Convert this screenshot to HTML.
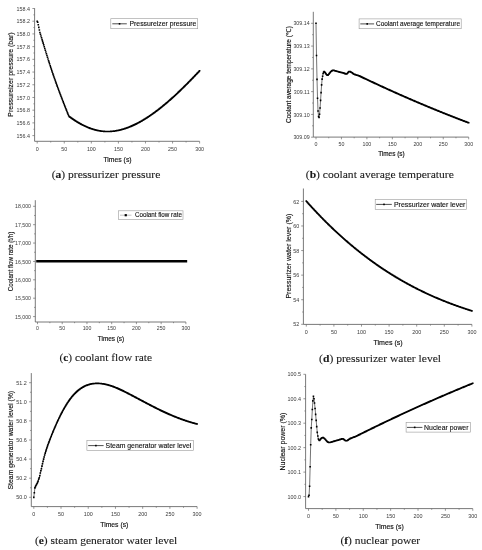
<!DOCTYPE html>
<html><head><meta charset="utf-8"><title>Simulation results</title>
<style>html,body{margin:0;padding:0;background:#fff;} svg{display:block;}</style></head>
<body>
<svg width="482" height="550" viewBox="0 0 482 550">
<rect width="482" height="550" fill="#fff"/>
<path d="M34.6 8.2 V141.3 H199.62" fill="none" stroke="#6a6a6a" stroke-width="0.9"/>
<path d="M37.2 141.3v2.2M50.73 141.3v1.2M64.27 141.3v2.2M77.81 141.3v1.2M91.34 141.3v2.2M104.88 141.3v1.2M118.41 141.3v2.2M131.95 141.3v1.2M145.48 141.3v2.2M159.02 141.3v1.2M172.55 141.3v2.2M186.09 141.3v1.2M199.62 141.3v2.2M34.6 135.6h-2.2M34.6 122.89h-2.2M34.6 110.18h-2.2M34.6 97.47h-2.2M34.6 84.76h-2.2M34.6 72.05h-2.2M34.6 59.34h-2.2M34.6 46.63h-2.2M34.6 33.92h-2.2M34.6 21.21h-2.2M34.6 8.5h-2.2M34.6 129.25h-1.2M34.6 116.54h-1.2M34.6 103.83h-1.2M34.6 91.11h-1.2M34.6 78.4h-1.2M34.6 65.7h-1.2M34.6 52.99h-1.2M34.6 40.28h-1.2M34.6 27.56h-1.2M34.6 14.85h-1.2" fill="none" stroke="#6a6a6a" stroke-width="0.7"/>
<text x="37.2" y="150.56" font-size="6.0" text-anchor="middle" fill="#3a3a3a" font-family="'Liberation Sans', Arial, sans-serif" textLength="2.97" lengthAdjust="spacingAndGlyphs">0</text>
<text x="64.27" y="150.56" font-size="6.0" text-anchor="middle" fill="#3a3a3a" font-family="'Liberation Sans', Arial, sans-serif" textLength="5.95" lengthAdjust="spacingAndGlyphs">50</text>
<text x="91.34" y="150.56" font-size="6.0" text-anchor="middle" fill="#3a3a3a" font-family="'Liberation Sans', Arial, sans-serif" textLength="8.92" lengthAdjust="spacingAndGlyphs">100</text>
<text x="118.41" y="150.56" font-size="6.0" text-anchor="middle" fill="#3a3a3a" font-family="'Liberation Sans', Arial, sans-serif" textLength="8.92" lengthAdjust="spacingAndGlyphs">150</text>
<text x="145.48" y="150.56" font-size="6.0" text-anchor="middle" fill="#3a3a3a" font-family="'Liberation Sans', Arial, sans-serif" textLength="8.92" lengthAdjust="spacingAndGlyphs">200</text>
<text x="172.55" y="150.56" font-size="6.0" text-anchor="middle" fill="#3a3a3a" font-family="'Liberation Sans', Arial, sans-serif" textLength="8.92" lengthAdjust="spacingAndGlyphs">250</text>
<text x="199.62" y="150.56" font-size="6.0" text-anchor="middle" fill="#3a3a3a" font-family="'Liberation Sans', Arial, sans-serif" textLength="8.92" lengthAdjust="spacingAndGlyphs">300</text>
<text x="30" y="137.72" font-size="5.9" text-anchor="end" fill="#3a3a3a" font-family="'Liberation Sans', Arial, sans-serif" textLength="13.39" lengthAdjust="spacingAndGlyphs">156.4</text>
<text x="30" y="125.01" font-size="5.9" text-anchor="end" fill="#3a3a3a" font-family="'Liberation Sans', Arial, sans-serif" textLength="13.39" lengthAdjust="spacingAndGlyphs">156.6</text>
<text x="30" y="112.3" font-size="5.9" text-anchor="end" fill="#3a3a3a" font-family="'Liberation Sans', Arial, sans-serif" textLength="13.39" lengthAdjust="spacingAndGlyphs">156.8</text>
<text x="30" y="99.59" font-size="5.9" text-anchor="end" fill="#3a3a3a" font-family="'Liberation Sans', Arial, sans-serif" textLength="13.39" lengthAdjust="spacingAndGlyphs">157.0</text>
<text x="30" y="86.88" font-size="5.9" text-anchor="end" fill="#3a3a3a" font-family="'Liberation Sans', Arial, sans-serif" textLength="13.39" lengthAdjust="spacingAndGlyphs">157.2</text>
<text x="30" y="74.17" font-size="5.9" text-anchor="end" fill="#3a3a3a" font-family="'Liberation Sans', Arial, sans-serif" textLength="13.39" lengthAdjust="spacingAndGlyphs">157.4</text>
<text x="30" y="61.46" font-size="5.9" text-anchor="end" fill="#3a3a3a" font-family="'Liberation Sans', Arial, sans-serif" textLength="13.39" lengthAdjust="spacingAndGlyphs">157.6</text>
<text x="30" y="48.75" font-size="5.9" text-anchor="end" fill="#3a3a3a" font-family="'Liberation Sans', Arial, sans-serif" textLength="13.39" lengthAdjust="spacingAndGlyphs">157.8</text>
<text x="30" y="36.04" font-size="5.9" text-anchor="end" fill="#3a3a3a" font-family="'Liberation Sans', Arial, sans-serif" textLength="13.39" lengthAdjust="spacingAndGlyphs">158.0</text>
<text x="30" y="23.33" font-size="5.9" text-anchor="end" fill="#3a3a3a" font-family="'Liberation Sans', Arial, sans-serif" textLength="13.39" lengthAdjust="spacingAndGlyphs">158.2</text>
<text x="30" y="10.62" font-size="5.9" text-anchor="end" fill="#3a3a3a" font-family="'Liberation Sans', Arial, sans-serif" textLength="13.39" lengthAdjust="spacingAndGlyphs">158.4</text>
<text transform="translate(13.28 74.5) rotate(-90)" font-size="6.9" text-anchor="middle" fill="#111" stroke="#111" stroke-width="0.15" font-family="'Liberation Sans', Arial, sans-serif" textLength="84.3" lengthAdjust="spacingAndGlyphs">Pressureizer pressure (bar)</text>
<text x="117.5" y="161.85" font-size="6.8" text-anchor="middle" fill="#111" font-family="'Liberation Sans', Arial, sans-serif" textLength="28.2" lengthAdjust="spacingAndGlyphs" stroke="#111" stroke-width="0.15">Times (s)</text>
<rect x="110.8" y="18.7" width="86.9" height="10" fill="#fff" stroke="#9a9a9a" stroke-width="0.6"/>
<path d="M112.3 23.8H126.8" stroke="#000" stroke-width="0.7"/>
<rect x="118.75" y="23" width="1.6" height="1.6" fill="#000"/>
<text x="129.5" y="26.25" font-size="6.8" text-anchor="start" fill="#111" font-family="'Liberation Sans', Arial, sans-serif" textLength="66.8" lengthAdjust="spacingAndGlyphs" stroke="#111" stroke-width="0.12">Pressureizer pressure</text>
<text x="51.7" y="177.8" font-size="11.2" fill="#1a1a1a" stroke="#1a1a1a" stroke-width="0.1" font-family="'Liberation Serif', 'Times New Roman', serif" textLength="108.6" lengthAdjust="spacingAndGlyphs">(<tspan font-weight="bold">a</tspan>) pressurizer pressure</text>
<path d="M36.4 20.6h1.6v1.6h-1.6zM36.94 21.5h1.6v1.6h-1.6zM37.48 23.91h1.6v1.6h-1.6zM38.02 26.62h1.6v1.6h-1.6zM38.57 29.23h1.6v1.6h-1.6zM39.11 31.72h1.6v1.6h-1.6zM39.65 33.48h1.6v1.6h-1.6zM40.19 35.24h1.6v1.6h-1.6zM40.73 37.01h1.6v1.6h-1.6zM41.27 38.79h1.6v1.6h-1.6zM41.81 40.56h1.6v1.6h-1.6zM42.36 42.34h1.6v1.6h-1.6zM42.9 44.11h1.6v1.6h-1.6zM43.44 45.89h1.6v1.6h-1.6zM43.98 47.66h1.6v1.6h-1.6zM44.52 49.43h1.6v1.6h-1.6zM45.06 51.19h1.6v1.6h-1.6zM45.6 52.95h1.6v1.6h-1.6zM46.15 54.69h1.6v1.6h-1.6zM46.69 56.43h1.6v1.6h-1.6zM47.23 58.16h1.6v1.6h-1.6zM47.77 59.88h1.6v1.6h-1.6zM48.31 61.58h1.6v1.6h-1.6zM48.85 63.26h1.6v1.6h-1.6zM49.39 64.93h1.6v1.6h-1.6zM49.94 66.59h1.6v1.6h-1.6zM50.48 68.23h1.6v1.6h-1.6zM51.02 69.85h1.6v1.6h-1.6zM51.56 71.45h1.6v1.6h-1.6zM52.1 73.05h1.6v1.6h-1.6zM52.64 74.62h1.6v1.6h-1.6zM53.18 76.18h1.6v1.6h-1.6zM53.72 77.73h1.6v1.6h-1.6zM54.27 79.27h1.6v1.6h-1.6zM54.81 80.79h1.6v1.6h-1.6zM55.35 82.3h1.6v1.6h-1.6zM55.89 83.8h1.6v1.6h-1.6zM56.43 85.29h1.6v1.6h-1.6zM56.97 86.77h1.6v1.6h-1.6zM57.51 88.23h1.6v1.6h-1.6zM58.06 89.69h1.6v1.6h-1.6zM58.6 91.14h1.6v1.6h-1.6zM59.14 92.58h1.6v1.6h-1.6zM59.68 94h1.6v1.6h-1.6zM60.22 95.43h1.6v1.6h-1.6zM60.76 96.84h1.6v1.6h-1.6zM61.3 98.25h1.6v1.6h-1.6zM61.85 99.65h1.6v1.6h-1.6zM62.39 101.04h1.6v1.6h-1.6zM62.93 102.43h1.6v1.6h-1.6zM63.47 103.81h1.6v1.6h-1.6zM64.01 105.19h1.6v1.6h-1.6zM64.55 106.57h1.6v1.6h-1.6zM65.09 107.94h1.6v1.6h-1.6zM65.64 109.3h1.6v1.6h-1.6zM66.18 110.67h1.6v1.6h-1.6zM66.72 112.03h1.6v1.6h-1.6zM67.26 113.39h1.6v1.6h-1.6zM67.8 114.75h1.6v1.6h-1.6zM68.34 115.68h1.6v1.6h-1.6zM68.88 116.08h1.6v1.6h-1.6zM69.43 116.47h1.6v1.6h-1.6zM69.97 116.86h1.6v1.6h-1.6zM70.51 117.24h1.6v1.6h-1.6zM71.05 117.62h1.6v1.6h-1.6zM71.59 118h1.6v1.6h-1.6zM72.13 118.37h1.6v1.6h-1.6zM72.67 118.74h1.6v1.6h-1.6zM73.22 119.1h1.6v1.6h-1.6zM73.76 119.45h1.6v1.6h-1.6zM74.3 119.8h1.6v1.6h-1.6zM74.84 120.15h1.6v1.6h-1.6zM75.38 120.49h1.6v1.6h-1.6zM75.92 120.83h1.6v1.6h-1.6zM76.46 121.16h1.6v1.6h-1.6zM77.01 121.49h1.6v1.6h-1.6zM77.55 121.81h1.6v1.6h-1.6zM78.09 122.12h1.6v1.6h-1.6zM78.63 122.43h1.6v1.6h-1.6zM79.17 122.74h1.6v1.6h-1.6zM79.71 123.04h1.6v1.6h-1.6zM80.25 123.34h1.6v1.6h-1.6zM80.79 123.63h1.6v1.6h-1.6zM81.34 123.91h1.6v1.6h-1.6zM81.88 124.19h1.6v1.6h-1.6zM82.42 124.47h1.6v1.6h-1.6zM82.96 124.74h1.6v1.6h-1.6zM83.5 125h1.6v1.6h-1.6zM84.04 125.26h1.6v1.6h-1.6zM84.58 125.51h1.6v1.6h-1.6zM85.13 125.76h1.6v1.6h-1.6zM85.67 126h1.6v1.6h-1.6zM86.21 126.23h1.6v1.6h-1.6zM86.75 126.46h1.6v1.6h-1.6zM87.29 126.69h1.6v1.6h-1.6zM87.83 126.91h1.6v1.6h-1.6zM88.37 127.12h1.6v1.6h-1.6zM88.92 127.33h1.6v1.6h-1.6zM89.46 127.53h1.6v1.6h-1.6zM90 127.72h1.6v1.6h-1.6zM90.54 127.91h1.6v1.6h-1.6zM91.08 128.1h1.6v1.6h-1.6zM91.62 128.27h1.6v1.6h-1.6zM92.16 128.45h1.6v1.6h-1.6zM92.71 128.61h1.6v1.6h-1.6zM93.25 128.77h1.6v1.6h-1.6zM93.79 128.92h1.6v1.6h-1.6zM94.33 129.07h1.6v1.6h-1.6zM94.87 129.21h1.6v1.6h-1.6zM95.41 129.35h1.6v1.6h-1.6zM95.95 129.48h1.6v1.6h-1.6zM96.5 129.6h1.6v1.6h-1.6zM97.04 129.71h1.6v1.6h-1.6zM97.58 129.82h1.6v1.6h-1.6zM98.12 129.93h1.6v1.6h-1.6zM98.66 130.02h1.6v1.6h-1.6zM99.2 130.11h1.6v1.6h-1.6zM99.74 130.2h1.6v1.6h-1.6zM100.29 130.28h1.6v1.6h-1.6zM100.83 130.35h1.6v1.6h-1.6zM101.37 130.41h1.6v1.6h-1.6zM101.91 130.47h1.6v1.6h-1.6zM102.45 130.52h1.6v1.6h-1.6zM102.99 130.57h1.6v1.6h-1.6zM103.53 130.61h1.6v1.6h-1.6zM104.08 130.64h1.6v1.6h-1.6zM104.62 130.67h1.6v1.6h-1.6zM105.16 130.69h1.6v1.6h-1.6zM105.7 130.7h1.6v1.6h-1.6zM106.24 130.71h1.6v1.6h-1.6zM106.78 130.71h1.6v1.6h-1.6zM107.32 130.71h1.6v1.6h-1.6zM107.86 130.7h1.6v1.6h-1.6zM108.41 130.69h1.6v1.6h-1.6zM108.95 130.66h1.6v1.6h-1.6zM109.49 130.64h1.6v1.6h-1.6zM110.03 130.6h1.6v1.6h-1.6zM110.57 130.56h1.6v1.6h-1.6zM111.11 130.52h1.6v1.6h-1.6zM111.65 130.47h1.6v1.6h-1.6zM112.2 130.41h1.6v1.6h-1.6zM112.74 130.35h1.6v1.6h-1.6zM113.28 130.28h1.6v1.6h-1.6zM113.82 130.21h1.6v1.6h-1.6zM114.36 130.13h1.6v1.6h-1.6zM114.9 130.05h1.6v1.6h-1.6zM115.44 129.96h1.6v1.6h-1.6zM115.99 129.86h1.6v1.6h-1.6zM116.53 129.76h1.6v1.6h-1.6zM117.07 129.66h1.6v1.6h-1.6zM117.61 129.54h1.6v1.6h-1.6zM118.15 129.43h1.6v1.6h-1.6zM118.69 129.3h1.6v1.6h-1.6zM119.23 129.18h1.6v1.6h-1.6zM119.78 129.04h1.6v1.6h-1.6zM120.32 128.91h1.6v1.6h-1.6zM120.86 128.76h1.6v1.6h-1.6zM121.4 128.61h1.6v1.6h-1.6zM121.94 128.46h1.6v1.6h-1.6zM122.48 128.3h1.6v1.6h-1.6zM123.02 128.14h1.6v1.6h-1.6zM123.57 127.97h1.6v1.6h-1.6zM124.11 127.8h1.6v1.6h-1.6zM124.65 127.62h1.6v1.6h-1.6zM125.19 127.44h1.6v1.6h-1.6zM125.73 127.25h1.6v1.6h-1.6zM126.27 127.05h1.6v1.6h-1.6zM126.81 126.86h1.6v1.6h-1.6zM127.36 126.65h1.6v1.6h-1.6zM127.9 126.45h1.6v1.6h-1.6zM128.44 126.23h1.6v1.6h-1.6zM128.98 126.02h1.6v1.6h-1.6zM129.52 125.8h1.6v1.6h-1.6zM130.06 125.57h1.6v1.6h-1.6zM130.6 125.34h1.6v1.6h-1.6zM131.14 125.1h1.6v1.6h-1.6zM131.69 124.86h1.6v1.6h-1.6zM132.23 124.62h1.6v1.6h-1.6zM132.77 124.37h1.6v1.6h-1.6zM133.31 124.12h1.6v1.6h-1.6zM133.85 123.86h1.6v1.6h-1.6zM134.39 123.6h1.6v1.6h-1.6zM134.93 123.33h1.6v1.6h-1.6zM135.48 123.06h1.6v1.6h-1.6zM136.02 122.79h1.6v1.6h-1.6zM136.56 122.51h1.6v1.6h-1.6zM137.1 122.23h1.6v1.6h-1.6zM137.64 121.94h1.6v1.6h-1.6zM138.18 121.65h1.6v1.6h-1.6zM138.72 121.35h1.6v1.6h-1.6zM139.27 121.05h1.6v1.6h-1.6zM139.81 120.75h1.6v1.6h-1.6zM140.35 120.44h1.6v1.6h-1.6zM140.89 120.13h1.6v1.6h-1.6zM141.43 119.82h1.6v1.6h-1.6zM141.97 119.5h1.6v1.6h-1.6zM142.51 119.17h1.6v1.6h-1.6zM143.06 118.85h1.6v1.6h-1.6zM143.6 118.52h1.6v1.6h-1.6zM144.14 118.18h1.6v1.6h-1.6zM144.68 117.85h1.6v1.6h-1.6zM145.22 117.5h1.6v1.6h-1.6zM145.76 117.16h1.6v1.6h-1.6zM146.3 116.81h1.6v1.6h-1.6zM146.85 116.46h1.6v1.6h-1.6zM147.39 116.1h1.6v1.6h-1.6zM147.93 115.74h1.6v1.6h-1.6zM148.47 115.38h1.6v1.6h-1.6zM149.01 115.01h1.6v1.6h-1.6zM149.55 114.64h1.6v1.6h-1.6zM150.09 114.27h1.6v1.6h-1.6zM150.64 113.9h1.6v1.6h-1.6zM151.18 113.52h1.6v1.6h-1.6zM151.72 113.13h1.6v1.6h-1.6zM152.26 112.75h1.6v1.6h-1.6zM152.8 112.36h1.6v1.6h-1.6zM153.34 111.96h1.6v1.6h-1.6zM153.88 111.57h1.6v1.6h-1.6zM154.43 111.17h1.6v1.6h-1.6zM154.97 110.77h1.6v1.6h-1.6zM155.51 110.36h1.6v1.6h-1.6zM156.05 109.95h1.6v1.6h-1.6zM156.59 109.54h1.6v1.6h-1.6zM157.13 109.13h1.6v1.6h-1.6zM157.67 108.71h1.6v1.6h-1.6zM158.21 108.29h1.6v1.6h-1.6zM158.76 107.87h1.6v1.6h-1.6zM159.3 107.44h1.6v1.6h-1.6zM159.84 107.01h1.6v1.6h-1.6zM160.38 106.58h1.6v1.6h-1.6zM160.92 106.14h1.6v1.6h-1.6zM161.46 105.7h1.6v1.6h-1.6zM162 105.26h1.6v1.6h-1.6zM162.55 104.82h1.6v1.6h-1.6zM163.09 104.37h1.6v1.6h-1.6zM163.63 103.92h1.6v1.6h-1.6zM164.17 103.47h1.6v1.6h-1.6zM164.71 103.02h1.6v1.6h-1.6zM165.25 102.56h1.6v1.6h-1.6zM165.79 102.1h1.6v1.6h-1.6zM166.34 101.64h1.6v1.6h-1.6zM166.88 101.17h1.6v1.6h-1.6zM167.42 100.7h1.6v1.6h-1.6zM167.96 100.23h1.6v1.6h-1.6zM168.5 99.76h1.6v1.6h-1.6zM169.04 99.29h1.6v1.6h-1.6zM169.58 98.81h1.6v1.6h-1.6zM170.13 98.33h1.6v1.6h-1.6zM170.67 97.84h1.6v1.6h-1.6zM171.21 97.36h1.6v1.6h-1.6zM171.75 96.87h1.6v1.6h-1.6zM172.29 96.38h1.6v1.6h-1.6zM172.83 95.89h1.6v1.6h-1.6zM173.37 95.39h1.6v1.6h-1.6zM173.92 94.9h1.6v1.6h-1.6zM174.46 94.4h1.6v1.6h-1.6zM175 93.9h1.6v1.6h-1.6zM175.54 93.39h1.6v1.6h-1.6zM176.08 92.89h1.6v1.6h-1.6zM176.62 92.38h1.6v1.6h-1.6zM177.16 91.87h1.6v1.6h-1.6zM177.71 91.36h1.6v1.6h-1.6zM178.25 90.84h1.6v1.6h-1.6zM178.79 90.33h1.6v1.6h-1.6zM179.33 89.81h1.6v1.6h-1.6zM179.87 89.29h1.6v1.6h-1.6zM180.41 88.76h1.6v1.6h-1.6zM180.95 88.24h1.6v1.6h-1.6zM181.5 87.71h1.6v1.6h-1.6zM182.04 87.18h1.6v1.6h-1.6zM182.58 86.65h1.6v1.6h-1.6zM183.12 86.12h1.6v1.6h-1.6zM183.66 85.59h1.6v1.6h-1.6zM184.2 85.05h1.6v1.6h-1.6zM184.74 84.51h1.6v1.6h-1.6zM185.28 83.97h1.6v1.6h-1.6zM185.83 83.43h1.6v1.6h-1.6zM186.37 82.89h1.6v1.6h-1.6zM186.91 82.35h1.6v1.6h-1.6zM187.45 81.8h1.6v1.6h-1.6zM187.99 81.25h1.6v1.6h-1.6zM188.53 80.7h1.6v1.6h-1.6zM189.07 80.15h1.6v1.6h-1.6zM189.62 79.6h1.6v1.6h-1.6zM190.16 79.04h1.6v1.6h-1.6zM190.7 78.49h1.6v1.6h-1.6zM191.24 77.93h1.6v1.6h-1.6zM191.78 77.37h1.6v1.6h-1.6zM192.32 76.81h1.6v1.6h-1.6zM192.86 76.25h1.6v1.6h-1.6zM193.41 75.68h1.6v1.6h-1.6zM193.95 75.12h1.6v1.6h-1.6zM194.49 74.55h1.6v1.6h-1.6zM195.03 73.99h1.6v1.6h-1.6zM195.57 73.42h1.6v1.6h-1.6zM196.11 72.85h1.6v1.6h-1.6zM196.65 72.28h1.6v1.6h-1.6zM197.2 71.7h1.6v1.6h-1.6zM197.74 71.13h1.6v1.6h-1.6zM198.28 70.55h1.6v1.6h-1.6zM198.82 70h1.6v1.6h-1.6z" fill="#000"/>
<path d="M313.3 11.8 V137.1 H468.7" fill="none" stroke="#6a6a6a" stroke-width="0.9"/>
<path d="M316 137.1v2.2M328.73 137.1v1.2M341.45 137.1v2.2M354.18 137.1v1.2M366.9 137.1v2.2M379.62 137.1v1.2M392.35 137.1v2.2M405.08 137.1v1.2M417.8 137.1v2.2M430.53 137.1v1.2M443.25 137.1v2.2M455.98 137.1v1.2M468.7 137.1v2.2M313.3 137.2h-2.2M313.3 114.42h-2.2M313.3 91.64h-2.2M313.3 68.86h-2.2M313.3 46.08h-2.2M313.3 23.3h-2.2M313.3 125.81h-1.2M313.3 103.03h-1.2M313.3 80.25h-1.2M313.3 57.47h-1.2M313.3 34.69h-1.2" fill="none" stroke="#6a6a6a" stroke-width="0.7"/>
<text x="316" y="145.56" font-size="6.0" text-anchor="middle" fill="#3a3a3a" font-family="'Liberation Sans', Arial, sans-serif" textLength="2.95" lengthAdjust="spacingAndGlyphs">0</text>
<text x="341.45" y="145.56" font-size="6.0" text-anchor="middle" fill="#3a3a3a" font-family="'Liberation Sans', Arial, sans-serif" textLength="5.89" lengthAdjust="spacingAndGlyphs">50</text>
<text x="366.9" y="145.56" font-size="6.0" text-anchor="middle" fill="#3a3a3a" font-family="'Liberation Sans', Arial, sans-serif" textLength="8.84" lengthAdjust="spacingAndGlyphs">100</text>
<text x="392.35" y="145.56" font-size="6.0" text-anchor="middle" fill="#3a3a3a" font-family="'Liberation Sans', Arial, sans-serif" textLength="8.84" lengthAdjust="spacingAndGlyphs">150</text>
<text x="417.8" y="145.56" font-size="6.0" text-anchor="middle" fill="#3a3a3a" font-family="'Liberation Sans', Arial, sans-serif" textLength="8.84" lengthAdjust="spacingAndGlyphs">200</text>
<text x="443.25" y="145.56" font-size="6.0" text-anchor="middle" fill="#3a3a3a" font-family="'Liberation Sans', Arial, sans-serif" textLength="8.84" lengthAdjust="spacingAndGlyphs">250</text>
<text x="468.7" y="145.56" font-size="6.0" text-anchor="middle" fill="#3a3a3a" font-family="'Liberation Sans', Arial, sans-serif" textLength="8.84" lengthAdjust="spacingAndGlyphs">300</text>
<text x="309.6" y="139.32" font-size="5.9" text-anchor="end" fill="#3a3a3a" font-family="'Liberation Sans', Arial, sans-serif" textLength="16.21" lengthAdjust="spacingAndGlyphs">309.09</text>
<text x="309.6" y="116.54" font-size="5.9" text-anchor="end" fill="#3a3a3a" font-family="'Liberation Sans', Arial, sans-serif" textLength="16.21" lengthAdjust="spacingAndGlyphs">309.10</text>
<text x="309.6" y="93.76" font-size="5.9" text-anchor="end" fill="#3a3a3a" font-family="'Liberation Sans', Arial, sans-serif" textLength="15.82" lengthAdjust="spacingAndGlyphs">309.11</text>
<text x="309.6" y="70.98" font-size="5.9" text-anchor="end" fill="#3a3a3a" font-family="'Liberation Sans', Arial, sans-serif" textLength="16.21" lengthAdjust="spacingAndGlyphs">309.12</text>
<text x="309.6" y="48.2" font-size="5.9" text-anchor="end" fill="#3a3a3a" font-family="'Liberation Sans', Arial, sans-serif" textLength="16.21" lengthAdjust="spacingAndGlyphs">309.13</text>
<text x="309.6" y="25.42" font-size="5.9" text-anchor="end" fill="#3a3a3a" font-family="'Liberation Sans', Arial, sans-serif" textLength="16.21" lengthAdjust="spacingAndGlyphs">309.14</text>
<text transform="translate(291.38 74.55) rotate(-90)" font-size="6.6" text-anchor="middle" fill="#111" stroke="#111" stroke-width="0.15" font-family="'Liberation Sans', Arial, sans-serif" textLength="96.9" lengthAdjust="spacingAndGlyphs">Coolant average temperature (℃)</text>
<text x="391.4" y="156.34" font-size="6.5" text-anchor="middle" fill="#111" font-family="'Liberation Sans', Arial, sans-serif" textLength="26.4" lengthAdjust="spacingAndGlyphs" stroke="#111" stroke-width="0.15">Times (s)</text>
<rect x="359.1" y="18.9" width="102.1" height="9.8" fill="#fff" stroke="#9a9a9a" stroke-width="0.6"/>
<path d="M360.3 23.9H374.1" stroke="#000" stroke-width="0.7"/>
<rect x="366.4" y="23.1" width="1.6" height="1.6" fill="#000"/>
<text x="376" y="26.24" font-size="6.5" text-anchor="start" fill="#111" font-family="'Liberation Sans', Arial, sans-serif" textLength="84" lengthAdjust="spacingAndGlyphs" stroke="#111" stroke-width="0.12">Coolant average temperature</text>
<text x="305.8" y="177.9" font-size="11.2" fill="#1a1a1a" stroke="#1a1a1a" stroke-width="0.1" font-family="'Liberation Serif', 'Times New Roman', serif" textLength="148" lengthAdjust="spacingAndGlyphs">(<tspan font-weight="bold">b</tspan>) coolant average temperature</text>
<path d="M316 23.3 L316.51 55.49 L317.02 79.35 L317.53 98.23 L318.04 111.07 L318.55 116.49 L319.05 117.55 L319.56 114.31 L320.07 108.02 L320.58 100.34 L321.09 92.61 L321.6 84.9 L322.11 79.17 L322.62 76.24 L323.13 73.46 L323.63 72.08 L324.14 71.51 L324.65 71.85 L325.16 72.7 L325.67 73.41 L326.18 74.11 L326.69 74.77 L327.2 75.22 L327.71 75.26 L328.22 74.9 L328.73 74.3 L329.23 73.63 L329.74 73.04 L330.25 72.42 L330.76 71.78 L331.27 71.22 L331.78 70.86 L332.29 70.6 L332.8 70.4 L333.31 70.3 L333.81 70.35 L334.32 70.5 L334.83 70.7 L335.34 70.88 L335.85 71.03 L336.36 71.16 L336.87 71.3 L337.38 71.43 L337.89 71.57 L338.4 71.71 L338.9 71.86 L339.41 72.01 L339.92 72.15 L340.43 72.28 L340.94 72.4 L341.45 72.51 L341.96 72.63 L342.47 72.74 L342.98 72.86 L343.49 73 L344 73.17 L344.5 73.4 L345.01 73.63 L345.52 73.83 L346.03 73.97 L346.54 73.98 L347.05 73.68 L347.56 73.12 L348.07 72.47 L348.58 71.89 L349.08 71.54 L349.59 71.53 L350.1 71.67 L350.61 71.91 L351.12 72.2 L351.63 72.5 L352.14 72.81 L352.65 73.19 L353.16 73.58 L353.67 73.93 L354.18 74.18 L354.68 74.41 L355.19 74.61 L355.7 74.79 L356.21 74.97 L356.72 75.13 L357.23 75.28 L357.74 75.42 L358.25 75.56 L358.76 75.71 L359.26 75.89 L359.77 76.09 L360.28 76.33 L360.79 76.58 L361.3 76.84 L361.81 77.11 L362.32 77.36 L362.83 77.61 L363.34 77.85 L363.85 78.09 L364.36 78.34 L364.86 78.58 L365.37 78.82 L365.88 79.07 L366.39 79.31 L366.9 79.55 L367.41 79.79 L367.92 80.03 L368.43 80.27 L368.94 80.48 L369.44 80.72 L369.95 80.96 L370.46 81.2 L370.97 81.44 L371.48 81.68 L371.99 81.92 L372.5 82.16 L373.01 82.39 L373.52 82.63 L374.03 82.87 L374.54 83.11 L375.04 83.35 L375.55 83.58 L376.06 83.82 L376.57 84.06 L377.08 84.29 L377.59 84.53 L378.1 84.77 L378.61 85 L379.12 85.24 L379.62 85.47 L380.13 85.71 L380.64 85.94 L381.15 86.18 L381.66 86.41 L382.17 86.65 L382.68 86.88 L383.19 87.11 L383.7 87.35 L384.21 87.58 L384.72 87.81 L385.22 88.04 L385.73 88.28 L386.24 88.51 L386.75 88.74 L387.26 88.97 L387.77 89.2 L388.28 89.44 L388.79 89.67 L389.3 89.9 L389.81 90.13 L390.31 90.36 L390.82 90.59 L391.33 90.82 L391.84 91.05 L392.35 91.28 L392.86 91.5 L393.37 91.73 L393.88 91.96 L394.39 92.19 L394.89 92.42 L395.4 92.64 L395.91 92.87 L396.42 93.1 L396.93 93.33 L397.44 93.55 L397.95 93.78 L398.46 94 L398.97 94.23 L399.48 94.46 L399.99 94.68 L400.49 94.91 L401 95.13 L401.51 95.36 L402.02 95.58 L402.53 95.8 L403.04 96.03 L403.55 96.25 L404.06 96.48 L404.57 96.7 L405.07 96.92 L405.58 97.14 L406.09 97.37 L406.6 97.59 L407.11 97.81 L407.62 98.03 L408.13 98.25 L408.64 98.47 L409.15 98.7 L409.66 98.92 L410.17 99.14 L410.67 99.36 L411.18 99.58 L411.69 99.8 L412.2 100.02 L412.71 100.23 L413.22 100.45 L413.73 100.67 L414.24 100.89 L414.75 101.11 L415.25 101.33 L415.76 101.54 L416.27 101.76 L416.78 101.98 L417.29 102.2 L417.8 102.41 L418.31 102.63 L418.82 102.84 L419.33 103.06 L419.84 103.28 L420.35 103.49 L420.85 103.71 L421.36 103.92 L421.87 104.14 L422.38 104.35 L422.89 104.56 L423.4 104.78 L423.91 104.99 L424.42 105.21 L424.93 105.42 L425.44 105.63 L425.94 105.84 L426.45 106.06 L426.96 106.27 L427.47 106.48 L427.98 106.69 L428.49 106.9 L429 107.11 L429.51 107.33 L430.02 107.54 L430.52 107.75 L431.03 107.96 L431.54 108.17 L432.05 108.38 L432.56 108.59 L433.07 108.79 L433.58 109 L434.09 109.21 L434.6 109.42 L435.11 109.63 L435.62 109.84 L436.12 110.04 L436.63 110.25 L437.14 110.46 L437.65 110.67 L438.16 110.87 L438.67 111.08 L439.18 111.29 L439.69 111.49 L440.2 111.7 L440.7 111.9 L441.21 112.11 L441.72 112.31 L442.23 112.52 L442.74 112.72 L443.25 112.93 L443.76 113.13 L444.27 113.33 L444.78 113.54 L445.29 113.74 L445.8 113.94 L446.3 114.15 L446.81 114.35 L447.32 114.55 L447.83 114.75 L448.34 114.95 L448.85 115.15 L449.36 115.36 L449.87 115.56 L450.38 115.76 L450.88 115.96 L451.39 116.16 L451.9 116.36 L452.41 116.56 L452.92 116.76 L453.43 116.96 L453.94 117.16 L454.45 117.35 L454.96 117.55 L455.47 117.75 L455.98 117.95 L456.48 118.15 L456.99 118.34 L457.5 118.54 L458.01 118.74 L458.52 118.93 L459.03 119.13 L459.54 119.33 L460.05 119.52 L460.56 119.72 L461.06 119.91 L461.57 120.11 L462.08 120.3 L462.59 120.5 L463.1 120.69 L463.61 120.89 L464.12 121.08 L464.63 121.27 L465.14 121.47 L465.65 121.66 L466.15 121.85 L466.66 122.05 L467.17 122.24 L467.68 122.43 L468.19 122.62 L468.7 122.82" fill="none" stroke="#000" stroke-width="0.55" stroke-linejoin="round"/>
<path d="M315.2 22.5h1.6v1.6h-1.6zM315.71 54.69h1.6v1.6h-1.6zM316.22 78.55h1.6v1.6h-1.6zM316.73 97.43h1.6v1.6h-1.6zM317.24 110.27h1.6v1.6h-1.6zM317.75 115.69h1.6v1.6h-1.6zM318.25 116.75h1.6v1.6h-1.6zM318.76 113.51h1.6v1.6h-1.6zM319.27 107.22h1.6v1.6h-1.6zM319.78 99.54h1.6v1.6h-1.6zM320.29 91.81h1.6v1.6h-1.6zM320.8 84.1h1.6v1.6h-1.6zM321.31 78.37h1.6v1.6h-1.6zM321.82 75.44h1.6v1.6h-1.6zM322.33 72.66h1.6v1.6h-1.6zM322.83 71.28h1.6v1.6h-1.6zM323.34 70.71h1.6v1.6h-1.6zM323.85 71.05h1.6v1.6h-1.6zM324.36 71.9h1.6v1.6h-1.6zM324.87 72.61h1.6v1.6h-1.6zM325.38 73.31h1.6v1.6h-1.6zM325.89 73.97h1.6v1.6h-1.6zM326.4 74.42h1.6v1.6h-1.6zM326.91 74.46h1.6v1.6h-1.6zM327.42 74.1h1.6v1.6h-1.6zM327.93 73.5h1.6v1.6h-1.6zM328.43 72.83h1.6v1.6h-1.6zM328.94 72.24h1.6v1.6h-1.6zM329.45 71.62h1.6v1.6h-1.6zM329.96 70.98h1.6v1.6h-1.6zM330.47 70.42h1.6v1.6h-1.6zM330.98 70.06h1.6v1.6h-1.6zM331.49 69.8h1.6v1.6h-1.6zM332 69.6h1.6v1.6h-1.6zM332.51 69.5h1.6v1.6h-1.6zM333.01 69.55h1.6v1.6h-1.6zM333.52 69.7h1.6v1.6h-1.6zM334.03 69.9h1.6v1.6h-1.6zM334.54 70.08h1.6v1.6h-1.6zM335.05 70.23h1.6v1.6h-1.6zM335.56 70.36h1.6v1.6h-1.6zM336.07 70.5h1.6v1.6h-1.6zM336.58 70.63h1.6v1.6h-1.6zM337.09 70.77h1.6v1.6h-1.6zM337.6 70.91h1.6v1.6h-1.6zM338.1 71.06h1.6v1.6h-1.6zM338.61 71.21h1.6v1.6h-1.6zM339.12 71.35h1.6v1.6h-1.6zM339.63 71.48h1.6v1.6h-1.6zM340.14 71.6h1.6v1.6h-1.6zM340.65 71.71h1.6v1.6h-1.6zM341.16 71.83h1.6v1.6h-1.6zM341.67 71.94h1.6v1.6h-1.6zM342.18 72.06h1.6v1.6h-1.6zM342.69 72.2h1.6v1.6h-1.6zM343.19 72.37h1.6v1.6h-1.6zM343.7 72.6h1.6v1.6h-1.6zM344.21 72.83h1.6v1.6h-1.6zM344.72 73.03h1.6v1.6h-1.6zM345.23 73.17h1.6v1.6h-1.6zM345.74 73.18h1.6v1.6h-1.6zM346.25 72.88h1.6v1.6h-1.6zM346.76 72.32h1.6v1.6h-1.6zM347.27 71.67h1.6v1.6h-1.6zM347.78 71.09h1.6v1.6h-1.6zM348.28 70.74h1.6v1.6h-1.6zM348.79 70.73h1.6v1.6h-1.6zM349.3 70.87h1.6v1.6h-1.6zM349.81 71.11h1.6v1.6h-1.6zM350.32 71.4h1.6v1.6h-1.6zM350.83 71.7h1.6v1.6h-1.6zM351.34 72.01h1.6v1.6h-1.6zM351.85 72.39h1.6v1.6h-1.6zM352.36 72.78h1.6v1.6h-1.6zM352.87 73.13h1.6v1.6h-1.6zM353.38 73.38h1.6v1.6h-1.6zM353.88 73.61h1.6v1.6h-1.6zM354.39 73.81h1.6v1.6h-1.6zM354.9 73.99h1.6v1.6h-1.6zM355.41 74.17h1.6v1.6h-1.6zM355.92 74.33h1.6v1.6h-1.6zM356.43 74.48h1.6v1.6h-1.6zM356.94 74.62h1.6v1.6h-1.6zM357.45 74.76h1.6v1.6h-1.6zM357.96 74.91h1.6v1.6h-1.6zM358.46 75.09h1.6v1.6h-1.6zM358.97 75.29h1.6v1.6h-1.6zM359.48 75.53h1.6v1.6h-1.6zM359.99 75.78h1.6v1.6h-1.6zM360.5 76.04h1.6v1.6h-1.6zM361.01 76.31h1.6v1.6h-1.6zM361.52 76.56h1.6v1.6h-1.6zM362.03 76.81h1.6v1.6h-1.6zM362.54 77.05h1.6v1.6h-1.6zM363.05 77.29h1.6v1.6h-1.6zM363.56 77.54h1.6v1.6h-1.6zM364.06 77.78h1.6v1.6h-1.6zM364.57 78.02h1.6v1.6h-1.6zM365.08 78.27h1.6v1.6h-1.6zM365.59 78.51h1.6v1.6h-1.6zM366.1 78.75h1.6v1.6h-1.6zM366.61 78.99h1.6v1.6h-1.6zM367.12 79.23h1.6v1.6h-1.6zM367.63 79.47h1.6v1.6h-1.6zM368.14 79.68h1.6v1.6h-1.6zM368.64 79.92h1.6v1.6h-1.6zM369.15 80.16h1.6v1.6h-1.6zM369.66 80.4h1.6v1.6h-1.6zM370.17 80.64h1.6v1.6h-1.6zM370.68 80.88h1.6v1.6h-1.6zM371.19 81.12h1.6v1.6h-1.6zM371.7 81.36h1.6v1.6h-1.6zM372.21 81.59h1.6v1.6h-1.6zM372.72 81.83h1.6v1.6h-1.6zM373.23 82.07h1.6v1.6h-1.6zM373.74 82.31h1.6v1.6h-1.6zM374.24 82.55h1.6v1.6h-1.6zM374.75 82.78h1.6v1.6h-1.6zM375.26 83.02h1.6v1.6h-1.6zM375.77 83.26h1.6v1.6h-1.6zM376.28 83.49h1.6v1.6h-1.6zM376.79 83.73h1.6v1.6h-1.6zM377.3 83.97h1.6v1.6h-1.6zM377.81 84.2h1.6v1.6h-1.6zM378.32 84.44h1.6v1.6h-1.6zM378.82 84.67h1.6v1.6h-1.6zM379.33 84.91h1.6v1.6h-1.6zM379.84 85.14h1.6v1.6h-1.6zM380.35 85.38h1.6v1.6h-1.6zM380.86 85.61h1.6v1.6h-1.6zM381.37 85.85h1.6v1.6h-1.6zM381.88 86.08h1.6v1.6h-1.6zM382.39 86.31h1.6v1.6h-1.6zM382.9 86.55h1.6v1.6h-1.6zM383.41 86.78h1.6v1.6h-1.6zM383.92 87.01h1.6v1.6h-1.6zM384.42 87.24h1.6v1.6h-1.6zM384.93 87.48h1.6v1.6h-1.6zM385.44 87.71h1.6v1.6h-1.6zM385.95 87.94h1.6v1.6h-1.6zM386.46 88.17h1.6v1.6h-1.6zM386.97 88.4h1.6v1.6h-1.6zM387.48 88.64h1.6v1.6h-1.6zM387.99 88.87h1.6v1.6h-1.6zM388.5 89.1h1.6v1.6h-1.6zM389 89.33h1.6v1.6h-1.6zM389.51 89.56h1.6v1.6h-1.6zM390.02 89.79h1.6v1.6h-1.6zM390.53 90.02h1.6v1.6h-1.6zM391.04 90.25h1.6v1.6h-1.6zM391.55 90.48h1.6v1.6h-1.6zM392.06 90.7h1.6v1.6h-1.6zM392.57 90.93h1.6v1.6h-1.6zM393.08 91.16h1.6v1.6h-1.6zM393.59 91.39h1.6v1.6h-1.6zM394.09 91.62h1.6v1.6h-1.6zM394.6 91.84h1.6v1.6h-1.6zM395.11 92.07h1.6v1.6h-1.6zM395.62 92.3h1.6v1.6h-1.6zM396.13 92.53h1.6v1.6h-1.6zM396.64 92.75h1.6v1.6h-1.6zM397.15 92.98h1.6v1.6h-1.6zM397.66 93.2h1.6v1.6h-1.6zM398.17 93.43h1.6v1.6h-1.6zM398.68 93.66h1.6v1.6h-1.6zM399.19 93.88h1.6v1.6h-1.6zM399.69 94.11h1.6v1.6h-1.6zM400.2 94.33h1.6v1.6h-1.6zM400.71 94.56h1.6v1.6h-1.6zM401.22 94.78h1.6v1.6h-1.6zM401.73 95h1.6v1.6h-1.6zM402.24 95.23h1.6v1.6h-1.6zM402.75 95.45h1.6v1.6h-1.6zM403.26 95.68h1.6v1.6h-1.6zM403.77 95.9h1.6v1.6h-1.6zM404.27 96.12h1.6v1.6h-1.6zM404.78 96.34h1.6v1.6h-1.6zM405.29 96.57h1.6v1.6h-1.6zM405.8 96.79h1.6v1.6h-1.6zM406.31 97.01h1.6v1.6h-1.6zM406.82 97.23h1.6v1.6h-1.6zM407.33 97.45h1.6v1.6h-1.6zM407.84 97.67h1.6v1.6h-1.6zM408.35 97.9h1.6v1.6h-1.6zM408.86 98.12h1.6v1.6h-1.6zM409.37 98.34h1.6v1.6h-1.6zM409.87 98.56h1.6v1.6h-1.6zM410.38 98.78h1.6v1.6h-1.6zM410.89 99h1.6v1.6h-1.6zM411.4 99.22h1.6v1.6h-1.6zM411.91 99.43h1.6v1.6h-1.6zM412.42 99.65h1.6v1.6h-1.6zM412.93 99.87h1.6v1.6h-1.6zM413.44 100.09h1.6v1.6h-1.6zM413.95 100.31h1.6v1.6h-1.6zM414.45 100.53h1.6v1.6h-1.6zM414.96 100.74h1.6v1.6h-1.6zM415.47 100.96h1.6v1.6h-1.6zM415.98 101.18h1.6v1.6h-1.6zM416.49 101.4h1.6v1.6h-1.6zM417 101.61h1.6v1.6h-1.6zM417.51 101.83h1.6v1.6h-1.6zM418.02 102.04h1.6v1.6h-1.6zM418.53 102.26h1.6v1.6h-1.6zM419.04 102.48h1.6v1.6h-1.6zM419.55 102.69h1.6v1.6h-1.6zM420.05 102.91h1.6v1.6h-1.6zM420.56 103.12h1.6v1.6h-1.6zM421.07 103.34h1.6v1.6h-1.6zM421.58 103.55h1.6v1.6h-1.6zM422.09 103.76h1.6v1.6h-1.6zM422.6 103.98h1.6v1.6h-1.6zM423.11 104.19h1.6v1.6h-1.6zM423.62 104.41h1.6v1.6h-1.6zM424.13 104.62h1.6v1.6h-1.6zM424.63 104.83h1.6v1.6h-1.6zM425.14 105.04h1.6v1.6h-1.6zM425.65 105.26h1.6v1.6h-1.6zM426.16 105.47h1.6v1.6h-1.6zM426.67 105.68h1.6v1.6h-1.6zM427.18 105.89h1.6v1.6h-1.6zM427.69 106.1h1.6v1.6h-1.6zM428.2 106.31h1.6v1.6h-1.6zM428.71 106.53h1.6v1.6h-1.6zM429.22 106.74h1.6v1.6h-1.6zM429.72 106.95h1.6v1.6h-1.6zM430.23 107.16h1.6v1.6h-1.6zM430.74 107.37h1.6v1.6h-1.6zM431.25 107.58h1.6v1.6h-1.6zM431.76 107.79h1.6v1.6h-1.6zM432.27 107.99h1.6v1.6h-1.6zM432.78 108.2h1.6v1.6h-1.6zM433.29 108.41h1.6v1.6h-1.6zM433.8 108.62h1.6v1.6h-1.6zM434.31 108.83h1.6v1.6h-1.6zM434.81 109.04h1.6v1.6h-1.6zM435.32 109.24h1.6v1.6h-1.6zM435.83 109.45h1.6v1.6h-1.6zM436.34 109.66h1.6v1.6h-1.6zM436.85 109.87h1.6v1.6h-1.6zM437.36 110.07h1.6v1.6h-1.6zM437.87 110.28h1.6v1.6h-1.6zM438.38 110.49h1.6v1.6h-1.6zM438.89 110.69h1.6v1.6h-1.6zM439.4 110.9h1.6v1.6h-1.6zM439.9 111.1h1.6v1.6h-1.6zM440.41 111.31h1.6v1.6h-1.6zM440.92 111.51h1.6v1.6h-1.6zM441.43 111.72h1.6v1.6h-1.6zM441.94 111.92h1.6v1.6h-1.6zM442.45 112.13h1.6v1.6h-1.6zM442.96 112.33h1.6v1.6h-1.6zM443.47 112.53h1.6v1.6h-1.6zM443.98 112.74h1.6v1.6h-1.6zM444.49 112.94h1.6v1.6h-1.6zM445 113.14h1.6v1.6h-1.6zM445.5 113.35h1.6v1.6h-1.6zM446.01 113.55h1.6v1.6h-1.6zM446.52 113.75h1.6v1.6h-1.6zM447.03 113.95h1.6v1.6h-1.6zM447.54 114.15h1.6v1.6h-1.6zM448.05 114.35h1.6v1.6h-1.6zM448.56 114.56h1.6v1.6h-1.6zM449.07 114.76h1.6v1.6h-1.6zM449.58 114.96h1.6v1.6h-1.6zM450.08 115.16h1.6v1.6h-1.6zM450.59 115.36h1.6v1.6h-1.6zM451.1 115.56h1.6v1.6h-1.6zM451.61 115.76h1.6v1.6h-1.6zM452.12 115.96h1.6v1.6h-1.6zM452.63 116.16h1.6v1.6h-1.6zM453.14 116.36h1.6v1.6h-1.6zM453.65 116.55h1.6v1.6h-1.6zM454.16 116.75h1.6v1.6h-1.6zM454.67 116.95h1.6v1.6h-1.6zM455.18 117.15h1.6v1.6h-1.6zM455.68 117.35h1.6v1.6h-1.6zM456.19 117.54h1.6v1.6h-1.6zM456.7 117.74h1.6v1.6h-1.6zM457.21 117.94h1.6v1.6h-1.6zM457.72 118.13h1.6v1.6h-1.6zM458.23 118.33h1.6v1.6h-1.6zM458.74 118.53h1.6v1.6h-1.6zM459.25 118.72h1.6v1.6h-1.6zM459.76 118.92h1.6v1.6h-1.6zM460.26 119.11h1.6v1.6h-1.6zM460.77 119.31h1.6v1.6h-1.6zM461.28 119.5h1.6v1.6h-1.6zM461.79 119.7h1.6v1.6h-1.6zM462.3 119.89h1.6v1.6h-1.6zM462.81 120.09h1.6v1.6h-1.6zM463.32 120.28h1.6v1.6h-1.6zM463.83 120.47h1.6v1.6h-1.6zM464.34 120.67h1.6v1.6h-1.6zM464.85 120.86h1.6v1.6h-1.6zM465.35 121.05h1.6v1.6h-1.6zM465.86 121.25h1.6v1.6h-1.6zM466.37 121.44h1.6v1.6h-1.6zM466.88 121.63h1.6v1.6h-1.6zM467.39 121.82h1.6v1.6h-1.6zM467.9 122.02h1.6v1.6h-1.6z" fill="#000"/>
<path d="M35.3 200.2 V322 H185.88" fill="none" stroke="#6a6a6a" stroke-width="0.9"/>
<path d="M37.5 322v2.2M49.87 322v1.2M62.23 322v2.2M74.59 322v1.2M86.96 322v2.2M99.33 322v1.2M111.69 322v2.2M124.05 322v1.2M136.42 322v2.2M148.79 322v1.2M161.15 322v2.2M173.52 322v1.2M185.88 322v2.2M35.3 316.58h-2.2M35.3 298.2h-2.2M35.3 279.82h-2.2M35.3 261.44h-2.2M35.3 243.06h-2.2M35.3 224.68h-2.2M35.3 206.3h-2.2M35.3 307.39h-1.2M35.3 289.01h-1.2M35.3 270.63h-1.2M35.3 252.25h-1.2M35.3 233.87h-1.2M35.3 215.49h-1.2" fill="none" stroke="#6a6a6a" stroke-width="0.7"/>
<text x="37.5" y="330.16" font-size="6.0" text-anchor="middle" fill="#3a3a3a" font-family="'Liberation Sans', Arial, sans-serif" textLength="2.89" lengthAdjust="spacingAndGlyphs">0</text>
<text x="62.23" y="330.16" font-size="6.0" text-anchor="middle" fill="#3a3a3a" font-family="'Liberation Sans', Arial, sans-serif" textLength="5.78" lengthAdjust="spacingAndGlyphs">50</text>
<text x="86.96" y="330.16" font-size="6.0" text-anchor="middle" fill="#3a3a3a" font-family="'Liberation Sans', Arial, sans-serif" textLength="8.67" lengthAdjust="spacingAndGlyphs">100</text>
<text x="111.69" y="330.16" font-size="6.0" text-anchor="middle" fill="#3a3a3a" font-family="'Liberation Sans', Arial, sans-serif" textLength="8.67" lengthAdjust="spacingAndGlyphs">150</text>
<text x="136.42" y="330.16" font-size="6.0" text-anchor="middle" fill="#3a3a3a" font-family="'Liberation Sans', Arial, sans-serif" textLength="8.67" lengthAdjust="spacingAndGlyphs">200</text>
<text x="161.15" y="330.16" font-size="6.0" text-anchor="middle" fill="#3a3a3a" font-family="'Liberation Sans', Arial, sans-serif" textLength="8.67" lengthAdjust="spacingAndGlyphs">250</text>
<text x="185.88" y="330.16" font-size="6.0" text-anchor="middle" fill="#3a3a3a" font-family="'Liberation Sans', Arial, sans-serif" textLength="8.67" lengthAdjust="spacingAndGlyphs">300</text>
<text x="31" y="318.7" font-size="5.9" text-anchor="end" fill="#3a3a3a" font-family="'Liberation Sans', Arial, sans-serif" textLength="15.9" lengthAdjust="spacingAndGlyphs">15,000</text>
<text x="31" y="300.32" font-size="5.9" text-anchor="end" fill="#3a3a3a" font-family="'Liberation Sans', Arial, sans-serif" textLength="15.9" lengthAdjust="spacingAndGlyphs">15,500</text>
<text x="31" y="281.94" font-size="5.9" text-anchor="end" fill="#3a3a3a" font-family="'Liberation Sans', Arial, sans-serif" textLength="15.9" lengthAdjust="spacingAndGlyphs">16,000</text>
<text x="31" y="263.56" font-size="5.9" text-anchor="end" fill="#3a3a3a" font-family="'Liberation Sans', Arial, sans-serif" textLength="15.9" lengthAdjust="spacingAndGlyphs">16,500</text>
<text x="31" y="245.18" font-size="5.9" text-anchor="end" fill="#3a3a3a" font-family="'Liberation Sans', Arial, sans-serif" textLength="15.9" lengthAdjust="spacingAndGlyphs">17,000</text>
<text x="31" y="226.8" font-size="5.9" text-anchor="end" fill="#3a3a3a" font-family="'Liberation Sans', Arial, sans-serif" textLength="15.9" lengthAdjust="spacingAndGlyphs">17,500</text>
<text x="31" y="208.42" font-size="5.9" text-anchor="end" fill="#3a3a3a" font-family="'Liberation Sans', Arial, sans-serif" textLength="15.9" lengthAdjust="spacingAndGlyphs">18,000</text>
<text transform="translate(13.46 261.5) rotate(-90)" font-size="7.1" text-anchor="middle" fill="#111" stroke="#111" stroke-width="0.15" font-family="'Liberation Sans', Arial, sans-serif" textLength="59.7" lengthAdjust="spacingAndGlyphs">Coolant flow rate (t/h)</text>
<text x="111" y="340.6" font-size="6.4" text-anchor="middle" fill="#111" font-family="'Liberation Sans', Arial, sans-serif" textLength="26.4" lengthAdjust="spacingAndGlyphs" stroke="#111" stroke-width="0.15">Times (s)</text>
<rect x="118.3" y="210.8" width="64.7" height="8.8" fill="#fff" stroke="#9a9a9a" stroke-width="0.6"/>
<path d="M120 215.2H131.5" stroke="#aaa" stroke-width="0.7"/>
<rect x="124.65" y="214.1" width="2.2" height="2.2" fill="#000"/>
<text x="134.9" y="217.47" font-size="6.3" text-anchor="start" fill="#111" font-family="'Liberation Sans', Arial, sans-serif" textLength="47" lengthAdjust="spacingAndGlyphs" stroke="#111" stroke-width="0.12">Coolant flow rate</text>
<text x="59.5" y="361.2" font-size="11.2" fill="#1a1a1a" stroke="#1a1a1a" stroke-width="0.1" font-family="'Liberation Serif', 'Times New Roman', serif" textLength="92.5" lengthAdjust="spacingAndGlyphs">(<tspan font-weight="bold">c</tspan>) coolant flow rate</text>
<path d="M37.5 261.3 L37.99 261.3 L38.49 261.3 L38.98 261.3 L39.48 261.3 L39.97 261.3 L40.47 261.3 L40.96 261.3 L41.46 261.3 L41.95 261.3 L42.45 261.3 L42.94 261.3 L43.44 261.3 L43.93 261.3 L44.42 261.3 L44.92 261.3 L45.41 261.3 L45.91 261.3 L46.4 261.3 L46.9 261.3 L47.39 261.3 L47.89 261.3 L48.38 261.3 L48.88 261.3 L49.37 261.3 L49.87 261.3 L50.36 261.3 L50.85 261.3 L51.35 261.3 L51.84 261.3 L52.34 261.3 L52.83 261.3 L53.33 261.3 L53.82 261.3 L54.32 261.3 L54.81 261.3 L55.31 261.3 L55.8 261.3 L56.29 261.3 L56.79 261.3 L57.28 261.3 L57.78 261.3 L58.27 261.3 L58.77 261.3 L59.26 261.3 L59.76 261.3 L60.25 261.3 L60.75 261.3 L61.24 261.3 L61.74 261.3 L62.23 261.3 L62.72 261.3 L63.22 261.3 L63.71 261.3 L64.21 261.3 L64.7 261.3 L65.2 261.3 L65.69 261.3 L66.19 261.3 L66.68 261.3 L67.18 261.3 L67.67 261.3 L68.17 261.3 L68.66 261.3 L69.15 261.3 L69.65 261.3 L70.14 261.3 L70.64 261.3 L71.13 261.3 L71.63 261.3 L72.12 261.3 L72.62 261.3 L73.11 261.3 L73.61 261.3 L74.1 261.3 L74.59 261.3 L75.09 261.3 L75.58 261.3 L76.08 261.3 L76.57 261.3 L77.07 261.3 L77.56 261.3 L78.06 261.3 L78.55 261.3 L79.05 261.3 L79.54 261.3 L80.04 261.3 L80.53 261.3 L81.02 261.3 L81.52 261.3 L82.01 261.3 L82.51 261.3 L83 261.3 L83.5 261.3 L83.99 261.3 L84.49 261.3 L84.98 261.3 L85.48 261.3 L85.97 261.3 L86.47 261.3 L86.96 261.3 L87.45 261.3 L87.95 261.3 L88.44 261.3 L88.94 261.3 L89.43 261.3 L89.93 261.3 L90.42 261.3 L90.92 261.3 L91.41 261.3 L91.91 261.3 L92.4 261.3 L92.9 261.3 L93.39 261.3 L93.88 261.3 L94.38 261.3 L94.87 261.3 L95.37 261.3 L95.86 261.3 L96.36 261.3 L96.85 261.3 L97.35 261.3 L97.84 261.3 L98.34 261.3 L98.83 261.3 L99.32 261.3 L99.82 261.3 L100.31 261.3 L100.81 261.3 L101.3 261.3 L101.8 261.3 L102.29 261.3 L102.79 261.3 L103.28 261.3 L103.78 261.3 L104.27 261.3 L104.77 261.3 L105.26 261.3 L105.75 261.3 L106.25 261.3 L106.74 261.3 L107.24 261.3 L107.73 261.3 L108.23 261.3 L108.72 261.3 L109.22 261.3 L109.71 261.3 L110.21 261.3 L110.7 261.3 L111.2 261.3 L111.69 261.3 L112.18 261.3 L112.68 261.3 L113.17 261.3 L113.67 261.3 L114.16 261.3 L114.66 261.3 L115.15 261.3 L115.65 261.3 L116.14 261.3 L116.64 261.3 L117.13 261.3 L117.63 261.3 L118.12 261.3 L118.61 261.3 L119.11 261.3 L119.6 261.3 L120.1 261.3 L120.59 261.3 L121.09 261.3 L121.58 261.3 L122.08 261.3 L122.57 261.3 L123.07 261.3 L123.56 261.3 L124.05 261.3 L124.55 261.3 L125.04 261.3 L125.54 261.3 L126.03 261.3 L126.53 261.3 L127.02 261.3 L127.52 261.3 L128.01 261.3 L128.51 261.3 L129 261.3 L129.5 261.3 L129.99 261.3 L130.48 261.3 L130.98 261.3 L131.47 261.3 L131.97 261.3 L132.46 261.3 L132.96 261.3 L133.45 261.3 L133.95 261.3 L134.44 261.3 L134.94 261.3 L135.43 261.3 L135.93 261.3 L136.42 261.3 L136.91 261.3 L137.41 261.3 L137.9 261.3 L138.4 261.3 L138.89 261.3 L139.39 261.3 L139.88 261.3 L140.38 261.3 L140.87 261.3 L141.37 261.3 L141.86 261.3 L142.36 261.3 L142.85 261.3 L143.34 261.3 L143.84 261.3 L144.33 261.3 L144.83 261.3 L145.32 261.3 L145.82 261.3 L146.31 261.3 L146.81 261.3 L147.3 261.3 L147.8 261.3 L148.29 261.3 L148.78 261.3 L149.28 261.3 L149.77 261.3 L150.27 261.3 L150.76 261.3 L151.26 261.3 L151.75 261.3 L152.25 261.3 L152.74 261.3 L153.24 261.3 L153.73 261.3 L154.23 261.3 L154.72 261.3 L155.21 261.3 L155.71 261.3 L156.2 261.3 L156.7 261.3 L157.19 261.3 L157.69 261.3 L158.18 261.3 L158.68 261.3 L159.17 261.3 L159.67 261.3 L160.16 261.3 L160.66 261.3 L161.15 261.3 L161.64 261.3 L162.14 261.3 L162.63 261.3 L163.13 261.3 L163.62 261.3 L164.12 261.3 L164.61 261.3 L165.11 261.3 L165.6 261.3 L166.1 261.3 L166.59 261.3 L167.09 261.3 L167.58 261.3 L168.07 261.3 L168.57 261.3 L169.06 261.3 L169.56 261.3 L170.05 261.3 L170.55 261.3 L171.04 261.3 L171.54 261.3 L172.03 261.3 L172.53 261.3 L173.02 261.3 L173.51 261.3 L174.01 261.3 L174.5 261.3 L175 261.3 L175.49 261.3 L175.99 261.3 L176.48 261.3 L176.98 261.3 L177.47 261.3 L177.97 261.3 L178.46 261.3 L178.96 261.3 L179.45 261.3 L179.94 261.3 L180.44 261.3 L180.93 261.3 L181.43 261.3 L181.92 261.3 L182.42 261.3 L182.91 261.3 L183.41 261.3 L183.9 261.3 L184.4 261.3 L184.89 261.3 L185.39 261.3 L185.88 261.3" fill="none" stroke="#000" stroke-width="0.55" stroke-linejoin="round"/>
<path d="M36.2 260h2.6v2.6h-2.6zM36.69 260h2.6v2.6h-2.6zM37.19 260h2.6v2.6h-2.6zM37.68 260h2.6v2.6h-2.6zM38.18 260h2.6v2.6h-2.6zM38.67 260h2.6v2.6h-2.6zM39.17 260h2.6v2.6h-2.6zM39.66 260h2.6v2.6h-2.6zM40.16 260h2.6v2.6h-2.6zM40.65 260h2.6v2.6h-2.6zM41.15 260h2.6v2.6h-2.6zM41.64 260h2.6v2.6h-2.6zM42.14 260h2.6v2.6h-2.6zM42.63 260h2.6v2.6h-2.6zM43.12 260h2.6v2.6h-2.6zM43.62 260h2.6v2.6h-2.6zM44.11 260h2.6v2.6h-2.6zM44.61 260h2.6v2.6h-2.6zM45.1 260h2.6v2.6h-2.6zM45.6 260h2.6v2.6h-2.6zM46.09 260h2.6v2.6h-2.6zM46.59 260h2.6v2.6h-2.6zM47.08 260h2.6v2.6h-2.6zM47.58 260h2.6v2.6h-2.6zM48.07 260h2.6v2.6h-2.6zM48.57 260h2.6v2.6h-2.6zM49.06 260h2.6v2.6h-2.6zM49.55 260h2.6v2.6h-2.6zM50.05 260h2.6v2.6h-2.6zM50.54 260h2.6v2.6h-2.6zM51.04 260h2.6v2.6h-2.6zM51.53 260h2.6v2.6h-2.6zM52.03 260h2.6v2.6h-2.6zM52.52 260h2.6v2.6h-2.6zM53.02 260h2.6v2.6h-2.6zM53.51 260h2.6v2.6h-2.6zM54.01 260h2.6v2.6h-2.6zM54.5 260h2.6v2.6h-2.6zM54.99 260h2.6v2.6h-2.6zM55.49 260h2.6v2.6h-2.6zM55.98 260h2.6v2.6h-2.6zM56.48 260h2.6v2.6h-2.6zM56.97 260h2.6v2.6h-2.6zM57.47 260h2.6v2.6h-2.6zM57.96 260h2.6v2.6h-2.6zM58.46 260h2.6v2.6h-2.6zM58.95 260h2.6v2.6h-2.6zM59.45 260h2.6v2.6h-2.6zM59.94 260h2.6v2.6h-2.6zM60.44 260h2.6v2.6h-2.6zM60.93 260h2.6v2.6h-2.6zM61.42 260h2.6v2.6h-2.6zM61.92 260h2.6v2.6h-2.6zM62.41 260h2.6v2.6h-2.6zM62.91 260h2.6v2.6h-2.6zM63.4 260h2.6v2.6h-2.6zM63.9 260h2.6v2.6h-2.6zM64.39 260h2.6v2.6h-2.6zM64.89 260h2.6v2.6h-2.6zM65.38 260h2.6v2.6h-2.6zM65.88 260h2.6v2.6h-2.6zM66.37 260h2.6v2.6h-2.6zM66.87 260h2.6v2.6h-2.6zM67.36 260h2.6v2.6h-2.6zM67.85 260h2.6v2.6h-2.6zM68.35 260h2.6v2.6h-2.6zM68.84 260h2.6v2.6h-2.6zM69.34 260h2.6v2.6h-2.6zM69.83 260h2.6v2.6h-2.6zM70.33 260h2.6v2.6h-2.6zM70.82 260h2.6v2.6h-2.6zM71.32 260h2.6v2.6h-2.6zM71.81 260h2.6v2.6h-2.6zM72.31 260h2.6v2.6h-2.6zM72.8 260h2.6v2.6h-2.6zM73.3 260h2.6v2.6h-2.6zM73.79 260h2.6v2.6h-2.6zM74.28 260h2.6v2.6h-2.6zM74.78 260h2.6v2.6h-2.6zM75.27 260h2.6v2.6h-2.6zM75.77 260h2.6v2.6h-2.6zM76.26 260h2.6v2.6h-2.6zM76.76 260h2.6v2.6h-2.6zM77.25 260h2.6v2.6h-2.6zM77.75 260h2.6v2.6h-2.6zM78.24 260h2.6v2.6h-2.6zM78.74 260h2.6v2.6h-2.6zM79.23 260h2.6v2.6h-2.6zM79.72 260h2.6v2.6h-2.6zM80.22 260h2.6v2.6h-2.6zM80.71 260h2.6v2.6h-2.6zM81.21 260h2.6v2.6h-2.6zM81.7 260h2.6v2.6h-2.6zM82.2 260h2.6v2.6h-2.6zM82.69 260h2.6v2.6h-2.6zM83.19 260h2.6v2.6h-2.6zM83.68 260h2.6v2.6h-2.6zM84.18 260h2.6v2.6h-2.6zM84.67 260h2.6v2.6h-2.6zM85.17 260h2.6v2.6h-2.6zM85.66 260h2.6v2.6h-2.6zM86.15 260h2.6v2.6h-2.6zM86.65 260h2.6v2.6h-2.6zM87.14 260h2.6v2.6h-2.6zM87.64 260h2.6v2.6h-2.6zM88.13 260h2.6v2.6h-2.6zM88.63 260h2.6v2.6h-2.6zM89.12 260h2.6v2.6h-2.6zM89.62 260h2.6v2.6h-2.6zM90.11 260h2.6v2.6h-2.6zM90.61 260h2.6v2.6h-2.6zM91.1 260h2.6v2.6h-2.6zM91.6 260h2.6v2.6h-2.6zM92.09 260h2.6v2.6h-2.6zM92.58 260h2.6v2.6h-2.6zM93.08 260h2.6v2.6h-2.6zM93.57 260h2.6v2.6h-2.6zM94.07 260h2.6v2.6h-2.6zM94.56 260h2.6v2.6h-2.6zM95.06 260h2.6v2.6h-2.6zM95.55 260h2.6v2.6h-2.6zM96.05 260h2.6v2.6h-2.6zM96.54 260h2.6v2.6h-2.6zM97.04 260h2.6v2.6h-2.6zM97.53 260h2.6v2.6h-2.6zM98.02 260h2.6v2.6h-2.6zM98.52 260h2.6v2.6h-2.6zM99.01 260h2.6v2.6h-2.6zM99.51 260h2.6v2.6h-2.6zM100 260h2.6v2.6h-2.6zM100.5 260h2.6v2.6h-2.6zM100.99 260h2.6v2.6h-2.6zM101.49 260h2.6v2.6h-2.6zM101.98 260h2.6v2.6h-2.6zM102.48 260h2.6v2.6h-2.6zM102.97 260h2.6v2.6h-2.6zM103.47 260h2.6v2.6h-2.6zM103.96 260h2.6v2.6h-2.6zM104.45 260h2.6v2.6h-2.6zM104.95 260h2.6v2.6h-2.6zM105.44 260h2.6v2.6h-2.6zM105.94 260h2.6v2.6h-2.6zM106.43 260h2.6v2.6h-2.6zM106.93 260h2.6v2.6h-2.6zM107.42 260h2.6v2.6h-2.6zM107.92 260h2.6v2.6h-2.6zM108.41 260h2.6v2.6h-2.6zM108.91 260h2.6v2.6h-2.6zM109.4 260h2.6v2.6h-2.6zM109.9 260h2.6v2.6h-2.6zM110.39 260h2.6v2.6h-2.6zM110.88 260h2.6v2.6h-2.6zM111.38 260h2.6v2.6h-2.6zM111.87 260h2.6v2.6h-2.6zM112.37 260h2.6v2.6h-2.6zM112.86 260h2.6v2.6h-2.6zM113.36 260h2.6v2.6h-2.6zM113.85 260h2.6v2.6h-2.6zM114.35 260h2.6v2.6h-2.6zM114.84 260h2.6v2.6h-2.6zM115.34 260h2.6v2.6h-2.6zM115.83 260h2.6v2.6h-2.6zM116.33 260h2.6v2.6h-2.6zM116.82 260h2.6v2.6h-2.6zM117.31 260h2.6v2.6h-2.6zM117.81 260h2.6v2.6h-2.6zM118.3 260h2.6v2.6h-2.6zM118.8 260h2.6v2.6h-2.6zM119.29 260h2.6v2.6h-2.6zM119.79 260h2.6v2.6h-2.6zM120.28 260h2.6v2.6h-2.6zM120.78 260h2.6v2.6h-2.6zM121.27 260h2.6v2.6h-2.6zM121.77 260h2.6v2.6h-2.6zM122.26 260h2.6v2.6h-2.6zM122.75 260h2.6v2.6h-2.6zM123.25 260h2.6v2.6h-2.6zM123.74 260h2.6v2.6h-2.6zM124.24 260h2.6v2.6h-2.6zM124.73 260h2.6v2.6h-2.6zM125.23 260h2.6v2.6h-2.6zM125.72 260h2.6v2.6h-2.6zM126.22 260h2.6v2.6h-2.6zM126.71 260h2.6v2.6h-2.6zM127.21 260h2.6v2.6h-2.6zM127.7 260h2.6v2.6h-2.6zM128.2 260h2.6v2.6h-2.6zM128.69 260h2.6v2.6h-2.6zM129.18 260h2.6v2.6h-2.6zM129.68 260h2.6v2.6h-2.6zM130.17 260h2.6v2.6h-2.6zM130.67 260h2.6v2.6h-2.6zM131.16 260h2.6v2.6h-2.6zM131.66 260h2.6v2.6h-2.6zM132.15 260h2.6v2.6h-2.6zM132.65 260h2.6v2.6h-2.6zM133.14 260h2.6v2.6h-2.6zM133.64 260h2.6v2.6h-2.6zM134.13 260h2.6v2.6h-2.6zM134.63 260h2.6v2.6h-2.6zM135.12 260h2.6v2.6h-2.6zM135.61 260h2.6v2.6h-2.6zM136.11 260h2.6v2.6h-2.6zM136.6 260h2.6v2.6h-2.6zM137.1 260h2.6v2.6h-2.6zM137.59 260h2.6v2.6h-2.6zM138.09 260h2.6v2.6h-2.6zM138.58 260h2.6v2.6h-2.6zM139.08 260h2.6v2.6h-2.6zM139.57 260h2.6v2.6h-2.6zM140.07 260h2.6v2.6h-2.6zM140.56 260h2.6v2.6h-2.6zM141.06 260h2.6v2.6h-2.6zM141.55 260h2.6v2.6h-2.6zM142.04 260h2.6v2.6h-2.6zM142.54 260h2.6v2.6h-2.6zM143.03 260h2.6v2.6h-2.6zM143.53 260h2.6v2.6h-2.6zM144.02 260h2.6v2.6h-2.6zM144.52 260h2.6v2.6h-2.6zM145.01 260h2.6v2.6h-2.6zM145.51 260h2.6v2.6h-2.6zM146 260h2.6v2.6h-2.6zM146.5 260h2.6v2.6h-2.6zM146.99 260h2.6v2.6h-2.6zM147.48 260h2.6v2.6h-2.6zM147.98 260h2.6v2.6h-2.6zM148.47 260h2.6v2.6h-2.6zM148.97 260h2.6v2.6h-2.6zM149.46 260h2.6v2.6h-2.6zM149.96 260h2.6v2.6h-2.6zM150.45 260h2.6v2.6h-2.6zM150.95 260h2.6v2.6h-2.6zM151.44 260h2.6v2.6h-2.6zM151.94 260h2.6v2.6h-2.6zM152.43 260h2.6v2.6h-2.6zM152.93 260h2.6v2.6h-2.6zM153.42 260h2.6v2.6h-2.6zM153.91 260h2.6v2.6h-2.6zM154.41 260h2.6v2.6h-2.6zM154.9 260h2.6v2.6h-2.6zM155.4 260h2.6v2.6h-2.6zM155.89 260h2.6v2.6h-2.6zM156.39 260h2.6v2.6h-2.6zM156.88 260h2.6v2.6h-2.6zM157.38 260h2.6v2.6h-2.6zM157.87 260h2.6v2.6h-2.6zM158.37 260h2.6v2.6h-2.6zM158.86 260h2.6v2.6h-2.6zM159.36 260h2.6v2.6h-2.6zM159.85 260h2.6v2.6h-2.6zM160.34 260h2.6v2.6h-2.6zM160.84 260h2.6v2.6h-2.6zM161.33 260h2.6v2.6h-2.6zM161.83 260h2.6v2.6h-2.6zM162.32 260h2.6v2.6h-2.6zM162.82 260h2.6v2.6h-2.6zM163.31 260h2.6v2.6h-2.6zM163.81 260h2.6v2.6h-2.6zM164.3 260h2.6v2.6h-2.6zM164.8 260h2.6v2.6h-2.6zM165.29 260h2.6v2.6h-2.6zM165.79 260h2.6v2.6h-2.6zM166.28 260h2.6v2.6h-2.6zM166.77 260h2.6v2.6h-2.6zM167.27 260h2.6v2.6h-2.6zM167.76 260h2.6v2.6h-2.6zM168.26 260h2.6v2.6h-2.6zM168.75 260h2.6v2.6h-2.6zM169.25 260h2.6v2.6h-2.6zM169.74 260h2.6v2.6h-2.6zM170.24 260h2.6v2.6h-2.6zM170.73 260h2.6v2.6h-2.6zM171.23 260h2.6v2.6h-2.6zM171.72 260h2.6v2.6h-2.6zM172.21 260h2.6v2.6h-2.6zM172.71 260h2.6v2.6h-2.6zM173.2 260h2.6v2.6h-2.6zM173.7 260h2.6v2.6h-2.6zM174.19 260h2.6v2.6h-2.6zM174.69 260h2.6v2.6h-2.6zM175.18 260h2.6v2.6h-2.6zM175.68 260h2.6v2.6h-2.6zM176.17 260h2.6v2.6h-2.6zM176.67 260h2.6v2.6h-2.6zM177.16 260h2.6v2.6h-2.6zM177.66 260h2.6v2.6h-2.6zM178.15 260h2.6v2.6h-2.6zM178.64 260h2.6v2.6h-2.6zM179.14 260h2.6v2.6h-2.6zM179.63 260h2.6v2.6h-2.6zM180.13 260h2.6v2.6h-2.6zM180.62 260h2.6v2.6h-2.6zM181.12 260h2.6v2.6h-2.6zM181.61 260h2.6v2.6h-2.6zM182.11 260h2.6v2.6h-2.6zM182.6 260h2.6v2.6h-2.6zM183.1 260h2.6v2.6h-2.6zM183.59 260h2.6v2.6h-2.6zM184.09 260h2.6v2.6h-2.6zM184.58 260h2.6v2.6h-2.6z" fill="#000"/>
<path d="M303.4 188.5 V324.4 H471.9" fill="none" stroke="#6a6a6a" stroke-width="0.9"/>
<path d="M306.3 324.4v2.2M320.1 324.4v1.2M333.9 324.4v2.2M347.7 324.4v1.2M361.5 324.4v2.2M375.3 324.4v1.2M389.1 324.4v2.2M402.9 324.4v1.2M416.7 324.4v2.2M430.5 324.4v1.2M444.3 324.4v2.2M458.1 324.4v1.2M471.9 324.4v2.2M303.4 324.3h-2.2M303.4 299.72h-2.2M303.4 275.14h-2.2M303.4 250.56h-2.2M303.4 225.98h-2.2M303.4 201.4h-2.2M303.4 312.01h-1.2M303.4 287.43h-1.2M303.4 262.85h-1.2M303.4 238.27h-1.2M303.4 213.69h-1.2" fill="none" stroke="#6a6a6a" stroke-width="0.7"/>
<text x="306.3" y="333.66" font-size="6.0" text-anchor="middle" fill="#3a3a3a" font-family="'Liberation Sans', Arial, sans-serif" textLength="3" lengthAdjust="spacingAndGlyphs">0</text>
<text x="333.9" y="333.66" font-size="6.0" text-anchor="middle" fill="#3a3a3a" font-family="'Liberation Sans', Arial, sans-serif" textLength="6" lengthAdjust="spacingAndGlyphs">50</text>
<text x="361.5" y="333.66" font-size="6.0" text-anchor="middle" fill="#3a3a3a" font-family="'Liberation Sans', Arial, sans-serif" textLength="9.01" lengthAdjust="spacingAndGlyphs">100</text>
<text x="389.1" y="333.66" font-size="6.0" text-anchor="middle" fill="#3a3a3a" font-family="'Liberation Sans', Arial, sans-serif" textLength="9.01" lengthAdjust="spacingAndGlyphs">150</text>
<text x="416.7" y="333.66" font-size="6.0" text-anchor="middle" fill="#3a3a3a" font-family="'Liberation Sans', Arial, sans-serif" textLength="9.01" lengthAdjust="spacingAndGlyphs">200</text>
<text x="444.3" y="333.66" font-size="6.0" text-anchor="middle" fill="#3a3a3a" font-family="'Liberation Sans', Arial, sans-serif" textLength="9.01" lengthAdjust="spacingAndGlyphs">250</text>
<text x="471.9" y="333.66" font-size="6.0" text-anchor="middle" fill="#3a3a3a" font-family="'Liberation Sans', Arial, sans-serif" textLength="9.01" lengthAdjust="spacingAndGlyphs">300</text>
<text x="299.3" y="326.42" font-size="5.9" text-anchor="end" fill="#3a3a3a" font-family="'Liberation Sans', Arial, sans-serif" textLength="6.01" lengthAdjust="spacingAndGlyphs">52</text>
<text x="299.3" y="301.84" font-size="5.9" text-anchor="end" fill="#3a3a3a" font-family="'Liberation Sans', Arial, sans-serif" textLength="6.01" lengthAdjust="spacingAndGlyphs">54</text>
<text x="299.3" y="277.26" font-size="5.9" text-anchor="end" fill="#3a3a3a" font-family="'Liberation Sans', Arial, sans-serif" textLength="6.01" lengthAdjust="spacingAndGlyphs">56</text>
<text x="299.3" y="252.68" font-size="5.9" text-anchor="end" fill="#3a3a3a" font-family="'Liberation Sans', Arial, sans-serif" textLength="6.01" lengthAdjust="spacingAndGlyphs">58</text>
<text x="299.3" y="228.1" font-size="5.9" text-anchor="end" fill="#3a3a3a" font-family="'Liberation Sans', Arial, sans-serif" textLength="6.01" lengthAdjust="spacingAndGlyphs">60</text>
<text x="299.3" y="203.52" font-size="5.9" text-anchor="end" fill="#3a3a3a" font-family="'Liberation Sans', Arial, sans-serif" textLength="6.01" lengthAdjust="spacingAndGlyphs">62</text>
<text transform="translate(290.52 256.1) rotate(-90)" font-size="7.0" text-anchor="middle" fill="#111" stroke="#111" stroke-width="0.15" font-family="'Liberation Sans', Arial, sans-serif" textLength="85" lengthAdjust="spacingAndGlyphs">Pressurizer water lever (%)</text>
<text x="388.05" y="345.08" font-size="6.9" text-anchor="middle" fill="#111" font-family="'Liberation Sans', Arial, sans-serif" textLength="29.1" lengthAdjust="spacingAndGlyphs" stroke="#111" stroke-width="0.15">Times (s)</text>
<rect x="375.2" y="199.6" width="91.3" height="9.9" fill="#fff" stroke="#9a9a9a" stroke-width="0.6"/>
<path d="M376.2 204.4H391.8" stroke="#000" stroke-width="0.7"/>
<rect x="383.2" y="203.6" width="1.6" height="1.6" fill="#000"/>
<text x="393.9" y="206.92" font-size="7.0" text-anchor="start" fill="#111" font-family="'Liberation Sans', Arial, sans-serif" textLength="71.5" lengthAdjust="spacingAndGlyphs" stroke="#111" stroke-width="0.12">Pressurizer water lever</text>
<text x="319.1" y="361.9" font-size="11.2" fill="#1a1a1a" stroke="#1a1a1a" stroke-width="0.1" font-family="'Liberation Serif', 'Times New Roman', serif" textLength="122" lengthAdjust="spacingAndGlyphs">(<tspan font-weight="bold">d</tspan>) pressurizer water level</text>
<path d="M306.3 201.14 L306.85 201.76 L307.4 202.38 L307.96 202.99 L308.51 203.61 L309.06 204.22 L309.61 204.83 L310.16 205.44 L310.72 206.05 L311.27 206.65 L311.82 207.25 L312.37 207.85 L312.92 208.45 L313.48 209.05 L314.03 209.64 L314.58 210.24 L315.13 210.83 L315.68 211.41 L316.24 212 L316.79 212.58 L317.34 213.16 L317.89 213.74 L318.44 214.32 L319 214.9 L319.55 215.47 L320.1 216.04 L320.65 216.61 L321.2 217.18 L321.76 217.75 L322.31 218.31 L322.86 218.87 L323.41 219.43 L323.96 219.99 L324.52 220.54 L325.07 221.1 L325.62 221.65 L326.17 222.2 L326.72 222.74 L327.28 223.29 L327.83 223.83 L328.38 224.38 L328.93 224.91 L329.48 225.45 L330.04 225.99 L330.59 226.52 L331.14 227.05 L331.69 227.58 L332.24 228.11 L332.8 228.64 L333.35 229.16 L333.9 229.68 L334.45 230.2 L335 230.72 L335.56 231.24 L336.11 231.75 L336.66 232.27 L337.21 232.78 L337.76 233.29 L338.32 233.79 L338.87 234.3 L339.42 234.8 L339.97 235.3 L340.52 235.8 L341.08 236.3 L341.63 236.8 L342.18 237.29 L342.73 237.78 L343.28 238.27 L343.84 238.76 L344.39 239.25 L344.94 239.73 L345.49 240.21 L346.04 240.69 L346.6 241.17 L347.15 241.65 L347.7 242.13 L348.25 242.6 L348.8 243.07 L349.36 243.54 L349.91 244.01 L350.46 244.48 L351.01 244.94 L351.56 245.4 L352.12 245.86 L352.67 246.32 L353.22 246.78 L353.77 247.24 L354.32 247.69 L354.88 248.14 L355.43 248.59 L355.98 249.04 L356.53 249.49 L357.08 249.93 L357.64 250.38 L358.19 250.82 L358.74 251.26 L359.29 251.7 L359.84 252.13 L360.4 252.57 L360.95 253 L361.5 253.43 L362.05 253.86 L362.6 254.29 L363.16 254.72 L363.71 255.14 L364.26 255.56 L364.81 255.98 L365.36 256.4 L365.92 256.82 L366.47 257.24 L367.02 257.65 L367.57 258.06 L368.12 258.48 L368.68 258.89 L369.23 259.29 L369.78 259.7 L370.33 260.1 L370.88 260.51 L371.44 260.91 L371.99 261.31 L372.54 261.7 L373.09 262.1 L373.64 262.5 L374.2 262.89 L374.75 263.28 L375.3 263.67 L375.85 264.06 L376.4 264.44 L376.96 264.83 L377.51 265.21 L378.06 265.59 L378.61 265.97 L379.16 266.35 L379.72 266.73 L380.27 267.11 L380.82 267.48 L381.37 267.85 L381.92 268.22 L382.48 268.59 L383.03 268.96 L383.58 269.33 L384.13 269.69 L384.68 270.05 L385.24 270.42 L385.79 270.78 L386.34 271.13 L386.89 271.49 L387.44 271.85 L388 272.2 L388.55 272.55 L389.1 272.9 L389.65 273.25 L390.2 273.6 L390.76 273.95 L391.31 274.29 L391.86 274.64 L392.41 274.98 L392.96 275.32 L393.52 275.66 L394.07 275.99 L394.62 276.33 L395.17 276.66 L395.72 277 L396.28 277.33 L396.83 277.66 L397.38 277.99 L397.93 278.32 L398.48 278.64 L399.04 278.97 L399.59 279.29 L400.14 279.61 L400.69 279.93 L401.24 280.25 L401.8 280.57 L402.35 280.88 L402.9 281.2 L403.45 281.51 L404 281.82 L404.56 282.13 L405.11 282.44 L405.66 282.75 L406.21 283.06 L406.76 283.36 L407.32 283.66 L407.87 283.97 L408.42 284.27 L408.97 284.57 L409.52 284.86 L410.08 285.16 L410.63 285.46 L411.18 285.75 L411.73 286.04 L412.28 286.33 L412.84 286.62 L413.39 286.91 L413.94 287.2 L414.49 287.49 L415.04 287.77 L415.6 288.06 L416.15 288.34 L416.7 288.62 L417.25 288.9 L417.8 289.18 L418.36 289.45 L418.91 289.73 L419.46 290 L420.01 290.28 L420.56 290.55 L421.12 290.82 L421.67 291.09 L422.22 291.36 L422.77 291.62 L423.32 291.89 L423.88 292.15 L424.43 292.42 L424.98 292.68 L425.53 292.94 L426.08 293.2 L426.64 293.46 L427.19 293.71 L427.74 293.97 L428.29 294.22 L428.84 294.48 L429.4 294.73 L429.95 294.98 L430.5 295.23 L431.05 295.48 L431.6 295.73 L432.16 295.97 L432.71 296.22 L433.26 296.46 L433.81 296.71 L434.36 296.95 L434.92 297.19 L435.47 297.43 L436.02 297.66 L436.57 297.9 L437.12 298.14 L437.68 298.37 L438.23 298.61 L438.78 298.84 L439.33 299.07 L439.88 299.3 L440.44 299.53 L440.99 299.76 L441.54 299.98 L442.09 300.21 L442.64 300.43 L443.2 300.66 L443.75 300.88 L444.3 301.1 L444.85 301.32 L445.4 301.54 L445.96 301.76 L446.51 301.98 L447.06 302.19 L447.61 302.41 L448.16 302.62 L448.72 302.83 L449.27 303.05 L449.82 303.26 L450.37 303.47 L450.92 303.67 L451.48 303.88 L452.03 304.09 L452.58 304.29 L453.13 304.5 L453.68 304.7 L454.24 304.9 L454.79 305.11 L455.34 305.31 L455.89 305.51 L456.44 305.7 L457 305.9 L457.55 306.1 L458.1 306.29 L458.65 306.49 L459.2 306.68 L459.76 306.87 L460.31 307.07 L460.86 307.26 L461.41 307.45 L461.96 307.63 L462.52 307.82 L463.07 308.01 L463.62 308.2 L464.17 308.38 L464.72 308.56 L465.28 308.75 L465.83 308.93 L466.38 309.11 L466.93 309.29 L467.48 309.47 L468.04 309.65 L468.59 309.83 L469.14 310 L469.69 310.18 L470.24 310.35 L470.8 310.53 L471.35 310.7 L471.9 310.87" fill="none" stroke="#000" stroke-width="0.55" stroke-linejoin="round"/>
<path d="M305.5 200.34h1.6v1.6h-1.6zM306.05 200.96h1.6v1.6h-1.6zM306.6 201.58h1.6v1.6h-1.6zM307.16 202.19h1.6v1.6h-1.6zM307.71 202.81h1.6v1.6h-1.6zM308.26 203.42h1.6v1.6h-1.6zM308.81 204.03h1.6v1.6h-1.6zM309.36 204.64h1.6v1.6h-1.6zM309.92 205.25h1.6v1.6h-1.6zM310.47 205.85h1.6v1.6h-1.6zM311.02 206.45h1.6v1.6h-1.6zM311.57 207.05h1.6v1.6h-1.6zM312.12 207.65h1.6v1.6h-1.6zM312.68 208.25h1.6v1.6h-1.6zM313.23 208.84h1.6v1.6h-1.6zM313.78 209.44h1.6v1.6h-1.6zM314.33 210.03h1.6v1.6h-1.6zM314.88 210.61h1.6v1.6h-1.6zM315.44 211.2h1.6v1.6h-1.6zM315.99 211.78h1.6v1.6h-1.6zM316.54 212.36h1.6v1.6h-1.6zM317.09 212.94h1.6v1.6h-1.6zM317.64 213.52h1.6v1.6h-1.6zM318.2 214.1h1.6v1.6h-1.6zM318.75 214.67h1.6v1.6h-1.6zM319.3 215.24h1.6v1.6h-1.6zM319.85 215.81h1.6v1.6h-1.6zM320.4 216.38h1.6v1.6h-1.6zM320.96 216.95h1.6v1.6h-1.6zM321.51 217.51h1.6v1.6h-1.6zM322.06 218.07h1.6v1.6h-1.6zM322.61 218.63h1.6v1.6h-1.6zM323.16 219.19h1.6v1.6h-1.6zM323.72 219.74h1.6v1.6h-1.6zM324.27 220.3h1.6v1.6h-1.6zM324.82 220.85h1.6v1.6h-1.6zM325.37 221.4h1.6v1.6h-1.6zM325.92 221.94h1.6v1.6h-1.6zM326.48 222.49h1.6v1.6h-1.6zM327.03 223.03h1.6v1.6h-1.6zM327.58 223.58h1.6v1.6h-1.6zM328.13 224.11h1.6v1.6h-1.6zM328.68 224.65h1.6v1.6h-1.6zM329.24 225.19h1.6v1.6h-1.6zM329.79 225.72h1.6v1.6h-1.6zM330.34 226.25h1.6v1.6h-1.6zM330.89 226.78h1.6v1.6h-1.6zM331.44 227.31h1.6v1.6h-1.6zM332 227.84h1.6v1.6h-1.6zM332.55 228.36h1.6v1.6h-1.6zM333.1 228.88h1.6v1.6h-1.6zM333.65 229.4h1.6v1.6h-1.6zM334.2 229.92h1.6v1.6h-1.6zM334.76 230.44h1.6v1.6h-1.6zM335.31 230.95h1.6v1.6h-1.6zM335.86 231.47h1.6v1.6h-1.6zM336.41 231.98h1.6v1.6h-1.6zM336.96 232.49h1.6v1.6h-1.6zM337.52 232.99h1.6v1.6h-1.6zM338.07 233.5h1.6v1.6h-1.6zM338.62 234h1.6v1.6h-1.6zM339.17 234.5h1.6v1.6h-1.6zM339.72 235h1.6v1.6h-1.6zM340.28 235.5h1.6v1.6h-1.6zM340.83 236h1.6v1.6h-1.6zM341.38 236.49h1.6v1.6h-1.6zM341.93 236.98h1.6v1.6h-1.6zM342.48 237.47h1.6v1.6h-1.6zM343.04 237.96h1.6v1.6h-1.6zM343.59 238.45h1.6v1.6h-1.6zM344.14 238.93h1.6v1.6h-1.6zM344.69 239.41h1.6v1.6h-1.6zM345.24 239.89h1.6v1.6h-1.6zM345.8 240.37h1.6v1.6h-1.6zM346.35 240.85h1.6v1.6h-1.6zM346.9 241.33h1.6v1.6h-1.6zM347.45 241.8h1.6v1.6h-1.6zM348 242.27h1.6v1.6h-1.6zM348.56 242.74h1.6v1.6h-1.6zM349.11 243.21h1.6v1.6h-1.6zM349.66 243.68h1.6v1.6h-1.6zM350.21 244.14h1.6v1.6h-1.6zM350.76 244.6h1.6v1.6h-1.6zM351.32 245.06h1.6v1.6h-1.6zM351.87 245.52h1.6v1.6h-1.6zM352.42 245.98h1.6v1.6h-1.6zM352.97 246.44h1.6v1.6h-1.6zM353.52 246.89h1.6v1.6h-1.6zM354.08 247.34h1.6v1.6h-1.6zM354.63 247.79h1.6v1.6h-1.6zM355.18 248.24h1.6v1.6h-1.6zM355.73 248.69h1.6v1.6h-1.6zM356.28 249.13h1.6v1.6h-1.6zM356.84 249.58h1.6v1.6h-1.6zM357.39 250.02h1.6v1.6h-1.6zM357.94 250.46h1.6v1.6h-1.6zM358.49 250.9h1.6v1.6h-1.6zM359.04 251.33h1.6v1.6h-1.6zM359.6 251.77h1.6v1.6h-1.6zM360.15 252.2h1.6v1.6h-1.6zM360.7 252.63h1.6v1.6h-1.6zM361.25 253.06h1.6v1.6h-1.6zM361.8 253.49h1.6v1.6h-1.6zM362.36 253.92h1.6v1.6h-1.6zM362.91 254.34h1.6v1.6h-1.6zM363.46 254.76h1.6v1.6h-1.6zM364.01 255.18h1.6v1.6h-1.6zM364.56 255.6h1.6v1.6h-1.6zM365.12 256.02h1.6v1.6h-1.6zM365.67 256.44h1.6v1.6h-1.6zM366.22 256.85h1.6v1.6h-1.6zM366.77 257.26h1.6v1.6h-1.6zM367.32 257.68h1.6v1.6h-1.6zM367.88 258.09h1.6v1.6h-1.6zM368.43 258.49h1.6v1.6h-1.6zM368.98 258.9h1.6v1.6h-1.6zM369.53 259.3h1.6v1.6h-1.6zM370.08 259.71h1.6v1.6h-1.6zM370.64 260.11h1.6v1.6h-1.6zM371.19 260.51h1.6v1.6h-1.6zM371.74 260.9h1.6v1.6h-1.6zM372.29 261.3h1.6v1.6h-1.6zM372.84 261.7h1.6v1.6h-1.6zM373.4 262.09h1.6v1.6h-1.6zM373.95 262.48h1.6v1.6h-1.6zM374.5 262.87h1.6v1.6h-1.6zM375.05 263.26h1.6v1.6h-1.6zM375.6 263.64h1.6v1.6h-1.6zM376.16 264.03h1.6v1.6h-1.6zM376.71 264.41h1.6v1.6h-1.6zM377.26 264.79h1.6v1.6h-1.6zM377.81 265.17h1.6v1.6h-1.6zM378.36 265.55h1.6v1.6h-1.6zM378.92 265.93h1.6v1.6h-1.6zM379.47 266.31h1.6v1.6h-1.6zM380.02 266.68h1.6v1.6h-1.6zM380.57 267.05h1.6v1.6h-1.6zM381.12 267.42h1.6v1.6h-1.6zM381.68 267.79h1.6v1.6h-1.6zM382.23 268.16h1.6v1.6h-1.6zM382.78 268.53h1.6v1.6h-1.6zM383.33 268.89h1.6v1.6h-1.6zM383.88 269.25h1.6v1.6h-1.6zM384.44 269.62h1.6v1.6h-1.6zM384.99 269.98h1.6v1.6h-1.6zM385.54 270.33h1.6v1.6h-1.6zM386.09 270.69h1.6v1.6h-1.6zM386.64 271.05h1.6v1.6h-1.6zM387.2 271.4h1.6v1.6h-1.6zM387.75 271.75h1.6v1.6h-1.6zM388.3 272.1h1.6v1.6h-1.6zM388.85 272.45h1.6v1.6h-1.6zM389.4 272.8h1.6v1.6h-1.6zM389.96 273.15h1.6v1.6h-1.6zM390.51 273.49h1.6v1.6h-1.6zM391.06 273.84h1.6v1.6h-1.6zM391.61 274.18h1.6v1.6h-1.6zM392.16 274.52h1.6v1.6h-1.6zM392.72 274.86h1.6v1.6h-1.6zM393.27 275.19h1.6v1.6h-1.6zM393.82 275.53h1.6v1.6h-1.6zM394.37 275.86h1.6v1.6h-1.6zM394.92 276.2h1.6v1.6h-1.6zM395.48 276.53h1.6v1.6h-1.6zM396.03 276.86h1.6v1.6h-1.6zM396.58 277.19h1.6v1.6h-1.6zM397.13 277.52h1.6v1.6h-1.6zM397.68 277.84h1.6v1.6h-1.6zM398.24 278.17h1.6v1.6h-1.6zM398.79 278.49h1.6v1.6h-1.6zM399.34 278.81h1.6v1.6h-1.6zM399.89 279.13h1.6v1.6h-1.6zM400.44 279.45h1.6v1.6h-1.6zM401 279.77h1.6v1.6h-1.6zM401.55 280.08h1.6v1.6h-1.6zM402.1 280.4h1.6v1.6h-1.6zM402.65 280.71h1.6v1.6h-1.6zM403.2 281.02h1.6v1.6h-1.6zM403.76 281.33h1.6v1.6h-1.6zM404.31 281.64h1.6v1.6h-1.6zM404.86 281.95h1.6v1.6h-1.6zM405.41 282.26h1.6v1.6h-1.6zM405.96 282.56h1.6v1.6h-1.6zM406.52 282.86h1.6v1.6h-1.6zM407.07 283.17h1.6v1.6h-1.6zM407.62 283.47h1.6v1.6h-1.6zM408.17 283.77h1.6v1.6h-1.6zM408.72 284.06h1.6v1.6h-1.6zM409.28 284.36h1.6v1.6h-1.6zM409.83 284.66h1.6v1.6h-1.6zM410.38 284.95h1.6v1.6h-1.6zM410.93 285.24h1.6v1.6h-1.6zM411.48 285.53h1.6v1.6h-1.6zM412.04 285.82h1.6v1.6h-1.6zM412.59 286.11h1.6v1.6h-1.6zM413.14 286.4h1.6v1.6h-1.6zM413.69 286.69h1.6v1.6h-1.6zM414.24 286.97h1.6v1.6h-1.6zM414.8 287.26h1.6v1.6h-1.6zM415.35 287.54h1.6v1.6h-1.6zM415.9 287.82h1.6v1.6h-1.6zM416.45 288.1h1.6v1.6h-1.6zM417 288.38h1.6v1.6h-1.6zM417.56 288.65h1.6v1.6h-1.6zM418.11 288.93h1.6v1.6h-1.6zM418.66 289.2h1.6v1.6h-1.6zM419.21 289.48h1.6v1.6h-1.6zM419.76 289.75h1.6v1.6h-1.6zM420.32 290.02h1.6v1.6h-1.6zM420.87 290.29h1.6v1.6h-1.6zM421.42 290.56h1.6v1.6h-1.6zM421.97 290.82h1.6v1.6h-1.6zM422.52 291.09h1.6v1.6h-1.6zM423.08 291.35h1.6v1.6h-1.6zM423.63 291.62h1.6v1.6h-1.6zM424.18 291.88h1.6v1.6h-1.6zM424.73 292.14h1.6v1.6h-1.6zM425.28 292.4h1.6v1.6h-1.6zM425.84 292.66h1.6v1.6h-1.6zM426.39 292.91h1.6v1.6h-1.6zM426.94 293.17h1.6v1.6h-1.6zM427.49 293.42h1.6v1.6h-1.6zM428.04 293.68h1.6v1.6h-1.6zM428.6 293.93h1.6v1.6h-1.6zM429.15 294.18h1.6v1.6h-1.6zM429.7 294.43h1.6v1.6h-1.6zM430.25 294.68h1.6v1.6h-1.6zM430.8 294.93h1.6v1.6h-1.6zM431.36 295.17h1.6v1.6h-1.6zM431.91 295.42h1.6v1.6h-1.6zM432.46 295.66h1.6v1.6h-1.6zM433.01 295.91h1.6v1.6h-1.6zM433.56 296.15h1.6v1.6h-1.6zM434.12 296.39h1.6v1.6h-1.6zM434.67 296.63h1.6v1.6h-1.6zM435.22 296.86h1.6v1.6h-1.6zM435.77 297.1h1.6v1.6h-1.6zM436.32 297.34h1.6v1.6h-1.6zM436.88 297.57h1.6v1.6h-1.6zM437.43 297.81h1.6v1.6h-1.6zM437.98 298.04h1.6v1.6h-1.6zM438.53 298.27h1.6v1.6h-1.6zM439.08 298.5h1.6v1.6h-1.6zM439.64 298.73h1.6v1.6h-1.6zM440.19 298.96h1.6v1.6h-1.6zM440.74 299.18h1.6v1.6h-1.6zM441.29 299.41h1.6v1.6h-1.6zM441.84 299.63h1.6v1.6h-1.6zM442.4 299.86h1.6v1.6h-1.6zM442.95 300.08h1.6v1.6h-1.6zM443.5 300.3h1.6v1.6h-1.6zM444.05 300.52h1.6v1.6h-1.6zM444.6 300.74h1.6v1.6h-1.6zM445.16 300.96h1.6v1.6h-1.6zM445.71 301.18h1.6v1.6h-1.6zM446.26 301.39h1.6v1.6h-1.6zM446.81 301.61h1.6v1.6h-1.6zM447.36 301.82h1.6v1.6h-1.6zM447.92 302.03h1.6v1.6h-1.6zM448.47 302.25h1.6v1.6h-1.6zM449.02 302.46h1.6v1.6h-1.6zM449.57 302.67h1.6v1.6h-1.6zM450.12 302.87h1.6v1.6h-1.6zM450.68 303.08h1.6v1.6h-1.6zM451.23 303.29h1.6v1.6h-1.6zM451.78 303.49h1.6v1.6h-1.6zM452.33 303.7h1.6v1.6h-1.6zM452.88 303.9h1.6v1.6h-1.6zM453.44 304.1h1.6v1.6h-1.6zM453.99 304.31h1.6v1.6h-1.6zM454.54 304.51h1.6v1.6h-1.6zM455.09 304.71h1.6v1.6h-1.6zM455.64 304.9h1.6v1.6h-1.6zM456.2 305.1h1.6v1.6h-1.6zM456.75 305.3h1.6v1.6h-1.6zM457.3 305.49h1.6v1.6h-1.6zM457.85 305.69h1.6v1.6h-1.6zM458.4 305.88h1.6v1.6h-1.6zM458.96 306.07h1.6v1.6h-1.6zM459.51 306.27h1.6v1.6h-1.6zM460.06 306.46h1.6v1.6h-1.6zM460.61 306.65h1.6v1.6h-1.6zM461.16 306.83h1.6v1.6h-1.6zM461.72 307.02h1.6v1.6h-1.6zM462.27 307.21h1.6v1.6h-1.6zM462.82 307.4h1.6v1.6h-1.6zM463.37 307.58h1.6v1.6h-1.6zM463.92 307.76h1.6v1.6h-1.6zM464.48 307.95h1.6v1.6h-1.6zM465.03 308.13h1.6v1.6h-1.6zM465.58 308.31h1.6v1.6h-1.6zM466.13 308.49h1.6v1.6h-1.6zM466.68 308.67h1.6v1.6h-1.6zM467.24 308.85h1.6v1.6h-1.6zM467.79 309.03h1.6v1.6h-1.6zM468.34 309.2h1.6v1.6h-1.6zM468.89 309.38h1.6v1.6h-1.6zM469.44 309.55h1.6v1.6h-1.6zM470 309.73h1.6v1.6h-1.6zM470.55 309.9h1.6v1.6h-1.6zM471.1 310.07h1.6v1.6h-1.6z" fill="#000"/>
<path d="M31.3 373.1 V506.6 H197.12" fill="none" stroke="#6a6a6a" stroke-width="0.9"/>
<path d="M33.8 506.6v2.2M47.41 506.6v1.2M61.02 506.6v2.2M74.63 506.6v1.2M88.24 506.6v2.2M101.85 506.6v1.2M115.46 506.6v2.2M129.07 506.6v1.2M142.68 506.6v2.2M156.29 506.6v1.2M169.9 506.6v2.2M183.51 506.6v1.2M197.12 506.6v2.2M31.3 497.3h-2.2M31.3 478.2h-2.2M31.3 459.1h-2.2M31.3 440h-2.2M31.3 420.9h-2.2M31.3 401.8h-2.2M31.3 382.7h-2.2M31.3 487.75h-1.2M31.3 468.65h-1.2M31.3 449.55h-1.2M31.3 430.45h-1.2M31.3 411.35h-1.2M31.3 392.25h-1.2" fill="none" stroke="#6a6a6a" stroke-width="0.7"/>
<text x="33.8" y="515.86" font-size="6.0" text-anchor="middle" fill="#3a3a3a" font-family="'Liberation Sans', Arial, sans-serif" textLength="3" lengthAdjust="spacingAndGlyphs">0</text>
<text x="61.02" y="515.86" font-size="6.0" text-anchor="middle" fill="#3a3a3a" font-family="'Liberation Sans', Arial, sans-serif" textLength="6" lengthAdjust="spacingAndGlyphs">50</text>
<text x="88.24" y="515.86" font-size="6.0" text-anchor="middle" fill="#3a3a3a" font-family="'Liberation Sans', Arial, sans-serif" textLength="9.01" lengthAdjust="spacingAndGlyphs">100</text>
<text x="115.46" y="515.86" font-size="6.0" text-anchor="middle" fill="#3a3a3a" font-family="'Liberation Sans', Arial, sans-serif" textLength="9.01" lengthAdjust="spacingAndGlyphs">150</text>
<text x="142.68" y="515.86" font-size="6.0" text-anchor="middle" fill="#3a3a3a" font-family="'Liberation Sans', Arial, sans-serif" textLength="9.01" lengthAdjust="spacingAndGlyphs">200</text>
<text x="169.9" y="515.86" font-size="6.0" text-anchor="middle" fill="#3a3a3a" font-family="'Liberation Sans', Arial, sans-serif" textLength="9.01" lengthAdjust="spacingAndGlyphs">250</text>
<text x="197.12" y="515.86" font-size="6.0" text-anchor="middle" fill="#3a3a3a" font-family="'Liberation Sans', Arial, sans-serif" textLength="9.01" lengthAdjust="spacingAndGlyphs">300</text>
<text x="26.8" y="499.42" font-size="5.9" text-anchor="end" fill="#3a3a3a" font-family="'Liberation Sans', Arial, sans-serif" textLength="10.51" lengthAdjust="spacingAndGlyphs">50.0</text>
<text x="26.8" y="480.32" font-size="5.9" text-anchor="end" fill="#3a3a3a" font-family="'Liberation Sans', Arial, sans-serif" textLength="10.51" lengthAdjust="spacingAndGlyphs">50.2</text>
<text x="26.8" y="461.22" font-size="5.9" text-anchor="end" fill="#3a3a3a" font-family="'Liberation Sans', Arial, sans-serif" textLength="10.51" lengthAdjust="spacingAndGlyphs">50.4</text>
<text x="26.8" y="442.12" font-size="5.9" text-anchor="end" fill="#3a3a3a" font-family="'Liberation Sans', Arial, sans-serif" textLength="10.51" lengthAdjust="spacingAndGlyphs">50.6</text>
<text x="26.8" y="423.02" font-size="5.9" text-anchor="end" fill="#3a3a3a" font-family="'Liberation Sans', Arial, sans-serif" textLength="10.51" lengthAdjust="spacingAndGlyphs">50.8</text>
<text x="26.8" y="403.92" font-size="5.9" text-anchor="end" fill="#3a3a3a" font-family="'Liberation Sans', Arial, sans-serif" textLength="10.51" lengthAdjust="spacingAndGlyphs">51.0</text>
<text x="26.8" y="384.82" font-size="5.9" text-anchor="end" fill="#3a3a3a" font-family="'Liberation Sans', Arial, sans-serif" textLength="10.51" lengthAdjust="spacingAndGlyphs">51.2</text>
<text transform="translate(13.38 440.2) rotate(-90)" font-size="6.9" text-anchor="middle" fill="#111" stroke="#111" stroke-width="0.15" font-family="'Liberation Sans', Arial, sans-serif" textLength="98.6" lengthAdjust="spacingAndGlyphs">Steam generator water level (%)</text>
<text x="114.3" y="527.05" font-size="6.8" text-anchor="middle" fill="#111" font-family="'Liberation Sans', Arial, sans-serif" textLength="28" lengthAdjust="spacingAndGlyphs" stroke="#111" stroke-width="0.15">Times (s)</text>
<rect x="86.9" y="440.6" width="106.4" height="9.9" fill="#fff" stroke="#9a9a9a" stroke-width="0.6"/>
<path d="M88.2 445.6H103.6" stroke="#000" stroke-width="0.7"/>
<rect x="95.1" y="444.8" width="1.6" height="1.6" fill="#000"/>
<text x="105.6" y="448.07" font-size="6.85" text-anchor="start" fill="#111" font-family="'Liberation Sans', Arial, sans-serif" textLength="85.7" lengthAdjust="spacingAndGlyphs" stroke="#111" stroke-width="0.12">Steam generator water level</text>
<text x="34.9" y="544.2" font-size="11.2" fill="#1a1a1a" stroke="#1a1a1a" stroke-width="0.1" font-family="'Liberation Serif', 'Times New Roman', serif" textLength="142.4" lengthAdjust="spacingAndGlyphs">(<tspan font-weight="bold">e</tspan>) steam generator water level</text>
<path d="M33.8 497.4 L34.34 492.75 L34.89 487.9 L35.43 486.58 L35.98 485.45 L36.52 484.46 L37.07 483.47 L37.61 482.33 L38.16 480.98 L38.7 479.31 L39.24 477.76 L39.79 475.71 L40.33 473.05 L40.88 470.81 L41.42 468.7 L41.97 466.12 L42.51 463.68 L43.05 461.35 L43.6 459.15 L44.14 457.06 L44.69 455.06 L45.23 453.17 L45.78 451.35 L46.32 449.62 L46.87 447.95 L47.41 446.35 L47.95 444.8 L48.5 443.29 L49.04 441.83 L49.59 440.39 L50.13 438.97 L50.68 437.57 L51.22 436.19 L51.77 434.82 L52.31 433.47 L52.85 432.14 L53.4 430.82 L53.94 429.52 L54.49 428.23 L55.03 426.96 L55.58 425.71 L56.12 424.48 L56.66 423.26 L57.21 422.06 L57.75 420.88 L58.3 419.72 L58.84 418.57 L59.39 417.44 L59.93 416.33 L60.48 415.24 L61.02 414.17 L61.56 413.11 L62.11 412.08 L62.65 411.06 L63.2 410.06 L63.74 409.09 L64.29 408.13 L64.83 407.19 L65.38 406.27 L65.92 405.37 L66.46 404.49 L67.01 403.63 L67.55 402.79 L68.1 401.97 L68.64 401.17 L69.19 400.39 L69.73 399.63 L70.27 398.89 L70.82 398.18 L71.36 397.48 L71.91 396.8 L72.45 396.15 L73 395.51 L73.54 394.9 L74.09 394.3 L74.63 393.72 L75.17 393.16 L75.72 392.62 L76.26 392.1 L76.81 391.6 L77.35 391.11 L77.9 390.64 L78.44 390.19 L78.99 389.76 L79.53 389.34 L80.07 388.94 L80.62 388.56 L81.16 388.19 L81.71 387.84 L82.25 387.5 L82.8 387.18 L83.34 386.87 L83.88 386.58 L84.43 386.31 L84.97 386.04 L85.52 385.79 L86.06 385.56 L86.61 385.34 L87.15 385.13 L87.7 384.94 L88.24 384.75 L88.78 384.58 L89.33 384.43 L89.87 384.28 L90.42 384.15 L90.96 384.03 L91.51 383.92 L92.05 383.82 L92.6 383.73 L93.14 383.65 L93.68 383.58 L94.23 383.53 L94.77 383.48 L95.32 383.44 L95.86 383.41 L96.41 383.39 L96.95 383.38 L97.49 383.38 L98.04 383.39 L98.58 383.41 L99.13 383.43 L99.67 383.46 L100.22 383.5 L100.76 383.55 L101.31 383.61 L101.85 383.68 L102.39 383.75 L102.94 383.83 L103.48 383.92 L104.03 384.01 L104.57 384.12 L105.12 384.23 L105.66 384.34 L106.21 384.47 L106.75 384.6 L107.29 384.73 L107.84 384.88 L108.38 385.03 L108.93 385.18 L109.47 385.34 L110.02 385.51 L110.56 385.68 L111.1 385.86 L111.65 386.04 L112.19 386.23 L112.74 386.42 L113.28 386.62 L113.83 386.83 L114.37 387.03 L114.92 387.25 L115.46 387.46 L116 387.69 L116.55 387.91 L117.09 388.14 L117.64 388.37 L118.18 388.61 L118.73 388.85 L119.27 389.1 L119.82 389.34 L120.36 389.59 L120.9 389.85 L121.45 390.11 L121.99 390.36 L122.54 390.63 L123.08 390.89 L123.63 391.16 L124.17 391.43 L124.71 391.7 L125.26 391.97 L125.8 392.25 L126.35 392.52 L126.89 392.8 L127.44 393.08 L127.98 393.36 L128.53 393.64 L129.07 393.93 L129.61 394.21 L130.16 394.49 L130.7 394.78 L131.25 395.06 L131.79 395.35 L132.34 395.64 L132.88 395.92 L133.43 396.21 L133.97 396.5 L134.51 396.79 L135.06 397.08 L135.6 397.36 L136.15 397.65 L136.69 397.94 L137.24 398.23 L137.78 398.52 L138.32 398.81 L138.87 399.1 L139.41 399.39 L139.96 399.68 L140.5 399.97 L141.05 400.26 L141.59 400.55 L142.14 400.84 L142.68 401.13 L143.22 401.42 L143.77 401.71 L144.31 401.99 L144.86 402.28 L145.4 402.57 L145.95 402.86 L146.49 403.14 L147.04 403.43 L147.58 403.72 L148.12 404 L148.67 404.29 L149.21 404.57 L149.76 404.85 L150.3 405.14 L150.85 405.42 L151.39 405.7 L151.93 405.98 L152.48 406.26 L153.02 406.54 L153.57 406.82 L154.11 407.1 L154.66 407.37 L155.2 407.65 L155.75 407.92 L156.29 408.2 L156.83 408.47 L157.38 408.74 L157.92 409.01 L158.47 409.28 L159.01 409.55 L159.56 409.81 L160.1 410.08 L160.65 410.34 L161.19 410.6 L161.73 410.86 L162.28 411.12 L162.82 411.38 L163.37 411.64 L163.91 411.89 L164.46 412.15 L165 412.4 L165.54 412.65 L166.09 412.9 L166.63 413.14 L167.18 413.39 L167.72 413.63 L168.27 413.87 L168.81 414.11 L169.36 414.35 L169.9 414.59 L170.44 414.82 L170.99 415.06 L171.53 415.29 L172.08 415.52 L172.62 415.74 L173.17 415.97 L173.71 416.2 L174.26 416.42 L174.8 416.64 L175.34 416.86 L175.89 417.07 L176.43 417.29 L176.98 417.5 L177.52 417.71 L178.07 417.92 L178.61 418.13 L179.15 418.34 L179.7 418.54 L180.24 418.74 L180.79 418.94 L181.33 419.14 L181.88 419.34 L182.42 419.53 L182.97 419.72 L183.51 419.91 L184.05 420.1 L184.6 420.29 L185.14 420.47 L185.69 420.66 L186.23 420.84 L186.78 421.01 L187.32 421.19 L187.87 421.36 L188.41 421.54 L188.95 421.71 L189.5 421.87 L190.04 422.04 L190.59 422.2 L191.13 422.37 L191.68 422.53 L192.22 422.68 L192.76 422.84 L193.31 422.99 L193.85 423.14 L194.4 423.29 L194.94 423.44 L195.49 423.58 L196.03 423.73 L196.58 423.87 L197.12 424" fill="none" stroke="#000" stroke-width="0.55" stroke-linejoin="round"/>
<path d="M33 496.6h1.6v1.6h-1.6zM33.54 491.95h1.6v1.6h-1.6zM34.09 487.1h1.6v1.6h-1.6zM34.63 485.78h1.6v1.6h-1.6zM35.18 484.65h1.6v1.6h-1.6zM35.72 483.66h1.6v1.6h-1.6zM36.27 482.67h1.6v1.6h-1.6zM36.81 481.53h1.6v1.6h-1.6zM37.36 480.18h1.6v1.6h-1.6zM37.9 478.51h1.6v1.6h-1.6zM38.44 476.96h1.6v1.6h-1.6zM38.99 474.91h1.6v1.6h-1.6zM39.53 472.25h1.6v1.6h-1.6zM40.08 470.01h1.6v1.6h-1.6zM40.62 467.9h1.6v1.6h-1.6zM41.17 465.32h1.6v1.6h-1.6zM41.71 462.88h1.6v1.6h-1.6zM42.25 460.55h1.6v1.6h-1.6zM42.8 458.35h1.6v1.6h-1.6zM43.34 456.26h1.6v1.6h-1.6zM43.89 454.26h1.6v1.6h-1.6zM44.43 452.37h1.6v1.6h-1.6zM44.98 450.55h1.6v1.6h-1.6zM45.52 448.82h1.6v1.6h-1.6zM46.07 447.15h1.6v1.6h-1.6zM46.61 445.55h1.6v1.6h-1.6zM47.15 444h1.6v1.6h-1.6zM47.7 442.49h1.6v1.6h-1.6zM48.24 441.03h1.6v1.6h-1.6zM48.79 439.59h1.6v1.6h-1.6zM49.33 438.17h1.6v1.6h-1.6zM49.88 436.77h1.6v1.6h-1.6zM50.42 435.39h1.6v1.6h-1.6zM50.97 434.02h1.6v1.6h-1.6zM51.51 432.67h1.6v1.6h-1.6zM52.05 431.34h1.6v1.6h-1.6zM52.6 430.02h1.6v1.6h-1.6zM53.14 428.72h1.6v1.6h-1.6zM53.69 427.43h1.6v1.6h-1.6zM54.23 426.16h1.6v1.6h-1.6zM54.78 424.91h1.6v1.6h-1.6zM55.32 423.68h1.6v1.6h-1.6zM55.86 422.46h1.6v1.6h-1.6zM56.41 421.26h1.6v1.6h-1.6zM56.95 420.08h1.6v1.6h-1.6zM57.5 418.92h1.6v1.6h-1.6zM58.04 417.77h1.6v1.6h-1.6zM58.59 416.64h1.6v1.6h-1.6zM59.13 415.53h1.6v1.6h-1.6zM59.68 414.44h1.6v1.6h-1.6zM60.22 413.37h1.6v1.6h-1.6zM60.76 412.31h1.6v1.6h-1.6zM61.31 411.28h1.6v1.6h-1.6zM61.85 410.26h1.6v1.6h-1.6zM62.4 409.26h1.6v1.6h-1.6zM62.94 408.29h1.6v1.6h-1.6zM63.49 407.33h1.6v1.6h-1.6zM64.03 406.39h1.6v1.6h-1.6zM64.58 405.47h1.6v1.6h-1.6zM65.12 404.57h1.6v1.6h-1.6zM65.66 403.69h1.6v1.6h-1.6zM66.21 402.83h1.6v1.6h-1.6zM66.75 401.99h1.6v1.6h-1.6zM67.3 401.17h1.6v1.6h-1.6zM67.84 400.37h1.6v1.6h-1.6zM68.39 399.59h1.6v1.6h-1.6zM68.93 398.83h1.6v1.6h-1.6zM69.47 398.09h1.6v1.6h-1.6zM70.02 397.38h1.6v1.6h-1.6zM70.56 396.68h1.6v1.6h-1.6zM71.11 396h1.6v1.6h-1.6zM71.65 395.35h1.6v1.6h-1.6zM72.2 394.71h1.6v1.6h-1.6zM72.74 394.1h1.6v1.6h-1.6zM73.29 393.5h1.6v1.6h-1.6zM73.83 392.92h1.6v1.6h-1.6zM74.37 392.36h1.6v1.6h-1.6zM74.92 391.82h1.6v1.6h-1.6zM75.46 391.3h1.6v1.6h-1.6zM76.01 390.8h1.6v1.6h-1.6zM76.55 390.31h1.6v1.6h-1.6zM77.1 389.84h1.6v1.6h-1.6zM77.64 389.39h1.6v1.6h-1.6zM78.19 388.96h1.6v1.6h-1.6zM78.73 388.54h1.6v1.6h-1.6zM79.27 388.14h1.6v1.6h-1.6zM79.82 387.76h1.6v1.6h-1.6zM80.36 387.39h1.6v1.6h-1.6zM80.91 387.04h1.6v1.6h-1.6zM81.45 386.7h1.6v1.6h-1.6zM82 386.38h1.6v1.6h-1.6zM82.54 386.07h1.6v1.6h-1.6zM83.08 385.78h1.6v1.6h-1.6zM83.63 385.51h1.6v1.6h-1.6zM84.17 385.24h1.6v1.6h-1.6zM84.72 384.99h1.6v1.6h-1.6zM85.26 384.76h1.6v1.6h-1.6zM85.81 384.54h1.6v1.6h-1.6zM86.35 384.33h1.6v1.6h-1.6zM86.9 384.14h1.6v1.6h-1.6zM87.44 383.95h1.6v1.6h-1.6zM87.98 383.78h1.6v1.6h-1.6zM88.53 383.63h1.6v1.6h-1.6zM89.07 383.48h1.6v1.6h-1.6zM89.62 383.35h1.6v1.6h-1.6zM90.16 383.23h1.6v1.6h-1.6zM90.71 383.12h1.6v1.6h-1.6zM91.25 383.02h1.6v1.6h-1.6zM91.8 382.93h1.6v1.6h-1.6zM92.34 382.85h1.6v1.6h-1.6zM92.88 382.78h1.6v1.6h-1.6zM93.43 382.73h1.6v1.6h-1.6zM93.97 382.68h1.6v1.6h-1.6zM94.52 382.64h1.6v1.6h-1.6zM95.06 382.61h1.6v1.6h-1.6zM95.61 382.59h1.6v1.6h-1.6zM96.15 382.58h1.6v1.6h-1.6zM96.69 382.58h1.6v1.6h-1.6zM97.24 382.59h1.6v1.6h-1.6zM97.78 382.61h1.6v1.6h-1.6zM98.33 382.63h1.6v1.6h-1.6zM98.87 382.66h1.6v1.6h-1.6zM99.42 382.7h1.6v1.6h-1.6zM99.96 382.75h1.6v1.6h-1.6zM100.51 382.81h1.6v1.6h-1.6zM101.05 382.88h1.6v1.6h-1.6zM101.59 382.95h1.6v1.6h-1.6zM102.14 383.03h1.6v1.6h-1.6zM102.68 383.12h1.6v1.6h-1.6zM103.23 383.21h1.6v1.6h-1.6zM103.77 383.32h1.6v1.6h-1.6zM104.32 383.43h1.6v1.6h-1.6zM104.86 383.54h1.6v1.6h-1.6zM105.41 383.67h1.6v1.6h-1.6zM105.95 383.8h1.6v1.6h-1.6zM106.49 383.93h1.6v1.6h-1.6zM107.04 384.08h1.6v1.6h-1.6zM107.58 384.23h1.6v1.6h-1.6zM108.13 384.38h1.6v1.6h-1.6zM108.67 384.54h1.6v1.6h-1.6zM109.22 384.71h1.6v1.6h-1.6zM109.76 384.88h1.6v1.6h-1.6zM110.3 385.06h1.6v1.6h-1.6zM110.85 385.24h1.6v1.6h-1.6zM111.39 385.43h1.6v1.6h-1.6zM111.94 385.62h1.6v1.6h-1.6zM112.48 385.82h1.6v1.6h-1.6zM113.03 386.03h1.6v1.6h-1.6zM113.57 386.23h1.6v1.6h-1.6zM114.12 386.45h1.6v1.6h-1.6zM114.66 386.66h1.6v1.6h-1.6zM115.2 386.89h1.6v1.6h-1.6zM115.75 387.11h1.6v1.6h-1.6zM116.29 387.34h1.6v1.6h-1.6zM116.84 387.57h1.6v1.6h-1.6zM117.38 387.81h1.6v1.6h-1.6zM117.93 388.05h1.6v1.6h-1.6zM118.47 388.3h1.6v1.6h-1.6zM119.02 388.54h1.6v1.6h-1.6zM119.56 388.79h1.6v1.6h-1.6zM120.1 389.05h1.6v1.6h-1.6zM120.65 389.31h1.6v1.6h-1.6zM121.19 389.56h1.6v1.6h-1.6zM121.74 389.83h1.6v1.6h-1.6zM122.28 390.09h1.6v1.6h-1.6zM122.83 390.36h1.6v1.6h-1.6zM123.37 390.63h1.6v1.6h-1.6zM123.91 390.9h1.6v1.6h-1.6zM124.46 391.17h1.6v1.6h-1.6zM125 391.45h1.6v1.6h-1.6zM125.55 391.72h1.6v1.6h-1.6zM126.09 392h1.6v1.6h-1.6zM126.64 392.28h1.6v1.6h-1.6zM127.18 392.56h1.6v1.6h-1.6zM127.73 392.84h1.6v1.6h-1.6zM128.27 393.13h1.6v1.6h-1.6zM128.81 393.41h1.6v1.6h-1.6zM129.36 393.69h1.6v1.6h-1.6zM129.9 393.98h1.6v1.6h-1.6zM130.45 394.26h1.6v1.6h-1.6zM130.99 394.55h1.6v1.6h-1.6zM131.54 394.84h1.6v1.6h-1.6zM132.08 395.12h1.6v1.6h-1.6zM132.63 395.41h1.6v1.6h-1.6zM133.17 395.7h1.6v1.6h-1.6zM133.71 395.99h1.6v1.6h-1.6zM134.26 396.28h1.6v1.6h-1.6zM134.8 396.56h1.6v1.6h-1.6zM135.35 396.85h1.6v1.6h-1.6zM135.89 397.14h1.6v1.6h-1.6zM136.44 397.43h1.6v1.6h-1.6zM136.98 397.72h1.6v1.6h-1.6zM137.52 398.01h1.6v1.6h-1.6zM138.07 398.3h1.6v1.6h-1.6zM138.61 398.59h1.6v1.6h-1.6zM139.16 398.88h1.6v1.6h-1.6zM139.7 399.17h1.6v1.6h-1.6zM140.25 399.46h1.6v1.6h-1.6zM140.79 399.75h1.6v1.6h-1.6zM141.34 400.04h1.6v1.6h-1.6zM141.88 400.33h1.6v1.6h-1.6zM142.42 400.62h1.6v1.6h-1.6zM142.97 400.91h1.6v1.6h-1.6zM143.51 401.19h1.6v1.6h-1.6zM144.06 401.48h1.6v1.6h-1.6zM144.6 401.77h1.6v1.6h-1.6zM145.15 402.06h1.6v1.6h-1.6zM145.69 402.34h1.6v1.6h-1.6zM146.24 402.63h1.6v1.6h-1.6zM146.78 402.92h1.6v1.6h-1.6zM147.32 403.2h1.6v1.6h-1.6zM147.87 403.49h1.6v1.6h-1.6zM148.41 403.77h1.6v1.6h-1.6zM148.96 404.05h1.6v1.6h-1.6zM149.5 404.34h1.6v1.6h-1.6zM150.05 404.62h1.6v1.6h-1.6zM150.59 404.9h1.6v1.6h-1.6zM151.13 405.18h1.6v1.6h-1.6zM151.68 405.46h1.6v1.6h-1.6zM152.22 405.74h1.6v1.6h-1.6zM152.77 406.02h1.6v1.6h-1.6zM153.31 406.3h1.6v1.6h-1.6zM153.86 406.57h1.6v1.6h-1.6zM154.4 406.85h1.6v1.6h-1.6zM154.95 407.12h1.6v1.6h-1.6zM155.49 407.4h1.6v1.6h-1.6zM156.03 407.67h1.6v1.6h-1.6zM156.58 407.94h1.6v1.6h-1.6zM157.12 408.21h1.6v1.6h-1.6zM157.67 408.48h1.6v1.6h-1.6zM158.21 408.75h1.6v1.6h-1.6zM158.76 409.01h1.6v1.6h-1.6zM159.3 409.28h1.6v1.6h-1.6zM159.85 409.54h1.6v1.6h-1.6zM160.39 409.8h1.6v1.6h-1.6zM160.93 410.06h1.6v1.6h-1.6zM161.48 410.32h1.6v1.6h-1.6zM162.02 410.58h1.6v1.6h-1.6zM162.57 410.84h1.6v1.6h-1.6zM163.11 411.09h1.6v1.6h-1.6zM163.66 411.35h1.6v1.6h-1.6zM164.2 411.6h1.6v1.6h-1.6zM164.74 411.85h1.6v1.6h-1.6zM165.29 412.1h1.6v1.6h-1.6zM165.83 412.34h1.6v1.6h-1.6zM166.38 412.59h1.6v1.6h-1.6zM166.92 412.83h1.6v1.6h-1.6zM167.47 413.07h1.6v1.6h-1.6zM168.01 413.31h1.6v1.6h-1.6zM168.56 413.55h1.6v1.6h-1.6zM169.1 413.79h1.6v1.6h-1.6zM169.64 414.02h1.6v1.6h-1.6zM170.19 414.26h1.6v1.6h-1.6zM170.73 414.49h1.6v1.6h-1.6zM171.28 414.72h1.6v1.6h-1.6zM171.82 414.94h1.6v1.6h-1.6zM172.37 415.17h1.6v1.6h-1.6zM172.91 415.4h1.6v1.6h-1.6zM173.46 415.62h1.6v1.6h-1.6zM174 415.84h1.6v1.6h-1.6zM174.54 416.06h1.6v1.6h-1.6zM175.09 416.27h1.6v1.6h-1.6zM175.63 416.49h1.6v1.6h-1.6zM176.18 416.7h1.6v1.6h-1.6zM176.72 416.91h1.6v1.6h-1.6zM177.27 417.12h1.6v1.6h-1.6zM177.81 417.33h1.6v1.6h-1.6zM178.35 417.54h1.6v1.6h-1.6zM178.9 417.74h1.6v1.6h-1.6zM179.44 417.94h1.6v1.6h-1.6zM179.99 418.14h1.6v1.6h-1.6zM180.53 418.34h1.6v1.6h-1.6zM181.08 418.54h1.6v1.6h-1.6zM181.62 418.73h1.6v1.6h-1.6zM182.17 418.92h1.6v1.6h-1.6zM182.71 419.11h1.6v1.6h-1.6zM183.25 419.3h1.6v1.6h-1.6zM183.8 419.49h1.6v1.6h-1.6zM184.34 419.67h1.6v1.6h-1.6zM184.89 419.86h1.6v1.6h-1.6zM185.43 420.04h1.6v1.6h-1.6zM185.98 420.21h1.6v1.6h-1.6zM186.52 420.39h1.6v1.6h-1.6zM187.07 420.56h1.6v1.6h-1.6zM187.61 420.74h1.6v1.6h-1.6zM188.15 420.91h1.6v1.6h-1.6zM188.7 421.07h1.6v1.6h-1.6zM189.24 421.24h1.6v1.6h-1.6zM189.79 421.4h1.6v1.6h-1.6zM190.33 421.57h1.6v1.6h-1.6zM190.88 421.73h1.6v1.6h-1.6zM191.42 421.88h1.6v1.6h-1.6zM191.96 422.04h1.6v1.6h-1.6zM192.51 422.19h1.6v1.6h-1.6zM193.05 422.34h1.6v1.6h-1.6zM193.6 422.49h1.6v1.6h-1.6zM194.14 422.64h1.6v1.6h-1.6zM194.69 422.78h1.6v1.6h-1.6zM195.23 422.93h1.6v1.6h-1.6zM195.78 423.07h1.6v1.6h-1.6zM196.32 423.2h1.6v1.6h-1.6z" fill="#000"/>
<path d="M305.6 374.3 V508.6 H472.78" fill="none" stroke="#6a6a6a" stroke-width="0.9"/>
<path d="M308.5 508.6v2.2M322.19 508.6v1.2M335.88 508.6v2.2M349.57 508.6v1.2M363.26 508.6v2.2M376.95 508.6v1.2M390.64 508.6v2.2M404.33 508.6v1.2M418.02 508.6v2.2M431.71 508.6v1.2M445.4 508.6v2.2M459.09 508.6v1.2M472.78 508.6v2.2M305.6 496.55h-2.2M305.6 472.1h-2.2M305.6 447.65h-2.2M305.6 423.2h-2.2M305.6 398.75h-2.2M305.6 374.3h-2.2M305.6 484.33h-1.2M305.6 459.87h-1.2M305.6 435.43h-1.2M305.6 410.98h-1.2M305.6 386.52h-1.2" fill="none" stroke="#6a6a6a" stroke-width="0.7"/>
<text x="308.5" y="518.06" font-size="6.0" text-anchor="middle" fill="#3a3a3a" font-family="'Liberation Sans', Arial, sans-serif" textLength="3" lengthAdjust="spacingAndGlyphs">0</text>
<text x="335.88" y="518.06" font-size="6.0" text-anchor="middle" fill="#3a3a3a" font-family="'Liberation Sans', Arial, sans-serif" textLength="6" lengthAdjust="spacingAndGlyphs">50</text>
<text x="363.26" y="518.06" font-size="6.0" text-anchor="middle" fill="#3a3a3a" font-family="'Liberation Sans', Arial, sans-serif" textLength="9.01" lengthAdjust="spacingAndGlyphs">100</text>
<text x="390.64" y="518.06" font-size="6.0" text-anchor="middle" fill="#3a3a3a" font-family="'Liberation Sans', Arial, sans-serif" textLength="9.01" lengthAdjust="spacingAndGlyphs">150</text>
<text x="418.02" y="518.06" font-size="6.0" text-anchor="middle" fill="#3a3a3a" font-family="'Liberation Sans', Arial, sans-serif" textLength="9.01" lengthAdjust="spacingAndGlyphs">200</text>
<text x="445.4" y="518.06" font-size="6.0" text-anchor="middle" fill="#3a3a3a" font-family="'Liberation Sans', Arial, sans-serif" textLength="9.01" lengthAdjust="spacingAndGlyphs">250</text>
<text x="472.78" y="518.06" font-size="6.0" text-anchor="middle" fill="#3a3a3a" font-family="'Liberation Sans', Arial, sans-serif" textLength="9.01" lengthAdjust="spacingAndGlyphs">300</text>
<text x="301.1" y="498.67" font-size="5.9" text-anchor="end" fill="#3a3a3a" font-family="'Liberation Sans', Arial, sans-serif" textLength="13.51" lengthAdjust="spacingAndGlyphs">100.0</text>
<text x="301.1" y="474.22" font-size="5.9" text-anchor="end" fill="#3a3a3a" font-family="'Liberation Sans', Arial, sans-serif" textLength="13.51" lengthAdjust="spacingAndGlyphs">100.1</text>
<text x="301.1" y="449.77" font-size="5.9" text-anchor="end" fill="#3a3a3a" font-family="'Liberation Sans', Arial, sans-serif" textLength="13.51" lengthAdjust="spacingAndGlyphs">100.2</text>
<text x="301.1" y="425.32" font-size="5.9" text-anchor="end" fill="#3a3a3a" font-family="'Liberation Sans', Arial, sans-serif" textLength="13.51" lengthAdjust="spacingAndGlyphs">100.3</text>
<text x="301.1" y="400.87" font-size="5.9" text-anchor="end" fill="#3a3a3a" font-family="'Liberation Sans', Arial, sans-serif" textLength="13.51" lengthAdjust="spacingAndGlyphs">100.4</text>
<text x="301.1" y="376.42" font-size="5.9" text-anchor="end" fill="#3a3a3a" font-family="'Liberation Sans', Arial, sans-serif" textLength="13.51" lengthAdjust="spacingAndGlyphs">100.5</text>
<text transform="translate(284.52 441.6) rotate(-90)" font-size="7.0" text-anchor="middle" fill="#111" stroke="#111" stroke-width="0.15" font-family="'Liberation Sans', Arial, sans-serif" textLength="57.9" lengthAdjust="spacingAndGlyphs">Nuclear power (%)</text>
<text x="389.45" y="529.08" font-size="6.9" text-anchor="middle" fill="#111" font-family="'Liberation Sans', Arial, sans-serif" textLength="28.5" lengthAdjust="spacingAndGlyphs" stroke="#111" stroke-width="0.15">Times (s)</text>
<rect x="406.1" y="422.5" width="64.4" height="9.6" fill="#fff" stroke="#9a9a9a" stroke-width="0.6"/>
<path d="M407 427.4H422.4" stroke="#000" stroke-width="0.7"/>
<rect x="413.9" y="426.6" width="1.6" height="1.6" fill="#000"/>
<text x="424.1" y="429.88" font-size="6.9" text-anchor="start" fill="#111" font-family="'Liberation Sans', Arial, sans-serif" textLength="44.4" lengthAdjust="spacingAndGlyphs" stroke="#111" stroke-width="0.12">Nuclear power</text>
<text x="340.4" y="544" font-size="11.2" fill="#1a1a1a" stroke="#1a1a1a" stroke-width="0.1" font-family="'Liberation Serif', 'Times New Roman', serif" textLength="79.8" lengthAdjust="spacingAndGlyphs">(<tspan font-weight="bold">f</tspan>) nuclear power</text>
<path d="M308.5 496.6 L309.05 495.25 L309.6 486.22 L310.14 466.8 L310.69 444.78 L311.24 427.88 L311.79 419.45 L312.33 409.57 L312.88 400.86 L313.43 396.21 L313.98 398.72 L314.52 402.98 L315.07 408.45 L315.62 414.34 L316.17 420.42 L316.71 426.6 L317.26 432.38 L317.81 436.06 L318.36 439.03 L318.9 440.05 L319.45 440.4 L320 439.97 L320.55 439.17 L321.09 438.48 L321.64 438.12 L322.19 437.81 L322.74 437.63 L323.29 437.65 L323.83 437.96 L324.38 438.46 L324.93 439.03 L325.48 439.57 L326.02 440.21 L326.57 440.9 L327.12 441.48 L327.67 441.87 L328.21 442.2 L328.76 442.43 L329.31 442.5 L329.86 442.44 L330.4 442.32 L330.95 442.18 L331.5 442.03 L332.05 441.88 L332.59 441.7 L333.14 441.52 L333.69 441.33 L334.24 441.14 L334.78 440.98 L335.33 440.83 L335.88 440.69 L336.43 440.55 L336.98 440.42 L337.52 440.28 L338.07 440.12 L338.62 439.95 L339.17 439.78 L339.71 439.6 L340.26 439.42 L340.81 439.26 L341.36 439.08 L341.9 438.9 L342.45 438.8 L343 438.9 L343.55 439.19 L344.09 439.59 L344.64 440.03 L345.19 440.43 L345.74 440.71 L346.28 440.8 L346.83 440.69 L347.38 440.43 L347.93 440.09 L348.47 439.69 L349.02 439.29 L349.57 438.93 L350.12 438.65 L350.67 438.4 L351.21 438.16 L351.76 437.93 L352.31 437.71 L352.86 437.49 L353.4 437.29 L353.95 437.1 L354.5 436.92 L355.05 436.81 L355.59 436.54 L356.14 436.26 L356.69 435.99 L357.24 435.71 L357.78 435.44 L358.33 435.16 L358.88 434.89 L359.43 434.62 L359.97 434.34 L360.52 434.07 L361.07 433.8 L361.62 433.53 L362.16 433.25 L362.71 432.98 L363.26 432.71 L363.81 432.44 L364.36 432.17 L364.9 431.9 L365.45 431.63 L366 431.36 L366.55 431.09 L367.09 430.82 L367.64 430.55 L368.19 430.28 L368.74 430.01 L369.28 429.74 L369.83 429.47 L370.38 429.2 L370.93 428.93 L371.47 428.66 L372.02 428.4 L372.57 428.13 L373.12 427.86 L373.66 427.6 L374.21 427.33 L374.76 427.06 L375.31 426.8 L375.85 426.53 L376.4 426.26 L376.95 426 L377.5 425.73 L378.05 425.47 L378.59 425.2 L379.14 424.94 L379.69 424.67 L380.24 424.41 L380.78 424.15 L381.33 423.88 L381.88 423.62 L382.43 423.36 L382.97 423.09 L383.52 422.83 L384.07 422.57 L384.62 422.31 L385.16 422.04 L385.71 421.78 L386.26 421.52 L386.81 421.26 L387.35 421 L387.9 420.74 L388.45 420.48 L389 420.22 L389.54 419.96 L390.09 419.7 L390.64 419.44 L391.19 419.18 L391.74 418.92 L392.28 418.66 L392.83 418.4 L393.38 418.15 L393.93 417.89 L394.47 417.63 L395.02 417.37 L395.57 417.12 L396.12 416.86 L396.66 416.6 L397.21 416.35 L397.76 416.09 L398.31 415.83 L398.85 415.58 L399.4 415.32 L399.95 415.07 L400.5 414.81 L401.04 414.56 L401.59 414.3 L402.14 414.05 L402.69 413.79 L403.23 413.54 L403.78 413.29 L404.33 413.03 L404.88 412.78 L405.43 412.53 L405.97 412.27 L406.52 412.02 L407.07 411.77 L407.62 411.52 L408.16 411.27 L408.71 411.02 L409.26 410.76 L409.81 410.51 L410.35 410.26 L410.9 410.01 L411.45 409.76 L412 409.51 L412.54 409.26 L413.09 409.01 L413.64 408.76 L414.19 408.52 L414.73 408.27 L415.28 408.02 L415.83 407.77 L416.38 407.52 L416.92 407.27 L417.47 407.03 L418.02 406.78 L418.57 406.53 L419.12 406.29 L419.66 406.04 L420.21 405.79 L420.76 405.55 L421.31 405.3 L421.85 405.06 L422.4 404.81 L422.95 404.57 L423.5 404.32 L424.04 404.08 L424.59 403.83 L425.14 403.59 L425.69 403.35 L426.23 403.1 L426.78 402.86 L427.33 402.62 L427.88 402.37 L428.42 402.13 L428.97 401.89 L429.52 401.65 L430.07 401.4 L430.61 401.16 L431.16 400.92 L431.71 400.68 L432.26 400.44 L432.81 400.2 L433.35 399.96 L433.9 399.72 L434.45 399.48 L435 399.24 L435.54 399 L436.09 398.76 L436.64 398.52 L437.19 398.28 L437.73 398.05 L438.28 397.81 L438.83 397.57 L439.38 397.33 L439.92 397.09 L440.47 396.86 L441.02 396.62 L441.57 396.38 L442.11 396.15 L442.66 395.91 L443.21 395.67 L443.76 395.44 L444.3 395.2 L444.85 394.97 L445.4 394.73 L445.95 394.5 L446.5 394.26 L447.04 394.03 L447.59 393.8 L448.14 393.56 L448.69 393.33 L449.23 393.1 L449.78 392.86 L450.33 392.63 L450.88 392.4 L451.42 392.17 L451.97 391.93 L452.52 391.7 L453.07 391.47 L453.61 391.24 L454.16 391.01 L454.71 390.78 L455.26 390.55 L455.8 390.32 L456.35 390.09 L456.9 389.86 L457.45 389.63 L457.99 389.4 L458.54 389.17 L459.09 388.94 L459.64 388.71 L460.19 388.48 L460.73 388.26 L461.28 388.03 L461.83 387.8 L462.38 387.57 L462.92 387.35 L463.47 387.12 L464.02 386.89 L464.57 386.67 L465.11 386.44 L465.66 386.21 L466.21 385.99 L466.76 385.76 L467.3 385.54 L467.85 385.31 L468.4 385.09 L468.95 384.86 L469.49 384.64 L470.04 384.42 L470.59 384.19 L471.14 383.97 L471.68 383.75 L472.23 383.52 L472.78 383.3" fill="none" stroke="#000" stroke-width="0.55" stroke-linejoin="round"/>
<path d="M307.7 495.8h1.6v1.6h-1.6zM308.25 494.45h1.6v1.6h-1.6zM308.8 485.42h1.6v1.6h-1.6zM309.34 466h1.6v1.6h-1.6zM309.89 443.98h1.6v1.6h-1.6zM310.44 427.08h1.6v1.6h-1.6zM310.99 418.65h1.6v1.6h-1.6zM311.53 408.77h1.6v1.6h-1.6zM312.08 400.06h1.6v1.6h-1.6zM312.63 395.41h1.6v1.6h-1.6zM313.18 397.92h1.6v1.6h-1.6zM313.72 402.18h1.6v1.6h-1.6zM314.27 407.65h1.6v1.6h-1.6zM314.82 413.54h1.6v1.6h-1.6zM315.37 419.62h1.6v1.6h-1.6zM315.91 425.8h1.6v1.6h-1.6zM316.46 431.58h1.6v1.6h-1.6zM317.01 435.26h1.6v1.6h-1.6zM317.56 438.23h1.6v1.6h-1.6zM318.1 439.25h1.6v1.6h-1.6zM318.65 439.6h1.6v1.6h-1.6zM319.2 439.17h1.6v1.6h-1.6zM319.75 438.37h1.6v1.6h-1.6zM320.29 437.68h1.6v1.6h-1.6zM320.84 437.32h1.6v1.6h-1.6zM321.39 437.01h1.6v1.6h-1.6zM321.94 436.83h1.6v1.6h-1.6zM322.49 436.85h1.6v1.6h-1.6zM323.03 437.16h1.6v1.6h-1.6zM323.58 437.66h1.6v1.6h-1.6zM324.13 438.23h1.6v1.6h-1.6zM324.68 438.77h1.6v1.6h-1.6zM325.22 439.41h1.6v1.6h-1.6zM325.77 440.1h1.6v1.6h-1.6zM326.32 440.68h1.6v1.6h-1.6zM326.87 441.07h1.6v1.6h-1.6zM327.41 441.4h1.6v1.6h-1.6zM327.96 441.63h1.6v1.6h-1.6zM328.51 441.7h1.6v1.6h-1.6zM329.06 441.64h1.6v1.6h-1.6zM329.6 441.52h1.6v1.6h-1.6zM330.15 441.38h1.6v1.6h-1.6zM330.7 441.23h1.6v1.6h-1.6zM331.25 441.08h1.6v1.6h-1.6zM331.79 440.9h1.6v1.6h-1.6zM332.34 440.72h1.6v1.6h-1.6zM332.89 440.53h1.6v1.6h-1.6zM333.44 440.34h1.6v1.6h-1.6zM333.98 440.18h1.6v1.6h-1.6zM334.53 440.03h1.6v1.6h-1.6zM335.08 439.89h1.6v1.6h-1.6zM335.63 439.75h1.6v1.6h-1.6zM336.18 439.62h1.6v1.6h-1.6zM336.72 439.48h1.6v1.6h-1.6zM337.27 439.32h1.6v1.6h-1.6zM337.82 439.15h1.6v1.6h-1.6zM338.37 438.98h1.6v1.6h-1.6zM338.91 438.8h1.6v1.6h-1.6zM339.46 438.62h1.6v1.6h-1.6zM340.01 438.46h1.6v1.6h-1.6zM340.56 438.28h1.6v1.6h-1.6zM341.1 438.1h1.6v1.6h-1.6zM341.65 438h1.6v1.6h-1.6zM342.2 438.1h1.6v1.6h-1.6zM342.75 438.39h1.6v1.6h-1.6zM343.29 438.79h1.6v1.6h-1.6zM343.84 439.23h1.6v1.6h-1.6zM344.39 439.63h1.6v1.6h-1.6zM344.94 439.91h1.6v1.6h-1.6zM345.48 440h1.6v1.6h-1.6zM346.03 439.89h1.6v1.6h-1.6zM346.58 439.63h1.6v1.6h-1.6zM347.13 439.29h1.6v1.6h-1.6zM347.67 438.89h1.6v1.6h-1.6zM348.22 438.49h1.6v1.6h-1.6zM348.77 438.13h1.6v1.6h-1.6zM349.32 437.85h1.6v1.6h-1.6zM349.87 437.6h1.6v1.6h-1.6zM350.41 437.36h1.6v1.6h-1.6zM350.96 437.13h1.6v1.6h-1.6zM351.51 436.91h1.6v1.6h-1.6zM352.06 436.69h1.6v1.6h-1.6zM352.6 436.49h1.6v1.6h-1.6zM353.15 436.3h1.6v1.6h-1.6zM353.7 436.12h1.6v1.6h-1.6zM354.25 436.01h1.6v1.6h-1.6zM354.79 435.74h1.6v1.6h-1.6zM355.34 435.46h1.6v1.6h-1.6zM355.89 435.19h1.6v1.6h-1.6zM356.44 434.91h1.6v1.6h-1.6zM356.98 434.64h1.6v1.6h-1.6zM357.53 434.36h1.6v1.6h-1.6zM358.08 434.09h1.6v1.6h-1.6zM358.63 433.82h1.6v1.6h-1.6zM359.17 433.54h1.6v1.6h-1.6zM359.72 433.27h1.6v1.6h-1.6zM360.27 433h1.6v1.6h-1.6zM360.82 432.73h1.6v1.6h-1.6zM361.36 432.45h1.6v1.6h-1.6zM361.91 432.18h1.6v1.6h-1.6zM362.46 431.91h1.6v1.6h-1.6zM363.01 431.64h1.6v1.6h-1.6zM363.56 431.37h1.6v1.6h-1.6zM364.1 431.1h1.6v1.6h-1.6zM364.65 430.83h1.6v1.6h-1.6zM365.2 430.56h1.6v1.6h-1.6zM365.75 430.29h1.6v1.6h-1.6zM366.29 430.02h1.6v1.6h-1.6zM366.84 429.75h1.6v1.6h-1.6zM367.39 429.48h1.6v1.6h-1.6zM367.94 429.21h1.6v1.6h-1.6zM368.48 428.94h1.6v1.6h-1.6zM369.03 428.67h1.6v1.6h-1.6zM369.58 428.4h1.6v1.6h-1.6zM370.13 428.13h1.6v1.6h-1.6zM370.67 427.86h1.6v1.6h-1.6zM371.22 427.6h1.6v1.6h-1.6zM371.77 427.33h1.6v1.6h-1.6zM372.32 427.06h1.6v1.6h-1.6zM372.86 426.8h1.6v1.6h-1.6zM373.41 426.53h1.6v1.6h-1.6zM373.96 426.26h1.6v1.6h-1.6zM374.51 426h1.6v1.6h-1.6zM375.05 425.73h1.6v1.6h-1.6zM375.6 425.46h1.6v1.6h-1.6zM376.15 425.2h1.6v1.6h-1.6zM376.7 424.93h1.6v1.6h-1.6zM377.25 424.67h1.6v1.6h-1.6zM377.79 424.4h1.6v1.6h-1.6zM378.34 424.14h1.6v1.6h-1.6zM378.89 423.87h1.6v1.6h-1.6zM379.44 423.61h1.6v1.6h-1.6zM379.98 423.35h1.6v1.6h-1.6zM380.53 423.08h1.6v1.6h-1.6zM381.08 422.82h1.6v1.6h-1.6zM381.63 422.56h1.6v1.6h-1.6zM382.17 422.29h1.6v1.6h-1.6zM382.72 422.03h1.6v1.6h-1.6zM383.27 421.77h1.6v1.6h-1.6zM383.82 421.51h1.6v1.6h-1.6zM384.36 421.24h1.6v1.6h-1.6zM384.91 420.98h1.6v1.6h-1.6zM385.46 420.72h1.6v1.6h-1.6zM386.01 420.46h1.6v1.6h-1.6zM386.55 420.2h1.6v1.6h-1.6zM387.1 419.94h1.6v1.6h-1.6zM387.65 419.68h1.6v1.6h-1.6zM388.2 419.42h1.6v1.6h-1.6zM388.74 419.16h1.6v1.6h-1.6zM389.29 418.9h1.6v1.6h-1.6zM389.84 418.64h1.6v1.6h-1.6zM390.39 418.38h1.6v1.6h-1.6zM390.94 418.12h1.6v1.6h-1.6zM391.48 417.86h1.6v1.6h-1.6zM392.03 417.6h1.6v1.6h-1.6zM392.58 417.35h1.6v1.6h-1.6zM393.13 417.09h1.6v1.6h-1.6zM393.67 416.83h1.6v1.6h-1.6zM394.22 416.57h1.6v1.6h-1.6zM394.77 416.32h1.6v1.6h-1.6zM395.32 416.06h1.6v1.6h-1.6zM395.86 415.8h1.6v1.6h-1.6zM396.41 415.55h1.6v1.6h-1.6zM396.96 415.29h1.6v1.6h-1.6zM397.51 415.03h1.6v1.6h-1.6zM398.05 414.78h1.6v1.6h-1.6zM398.6 414.52h1.6v1.6h-1.6zM399.15 414.27h1.6v1.6h-1.6zM399.7 414.01h1.6v1.6h-1.6zM400.24 413.76h1.6v1.6h-1.6zM400.79 413.5h1.6v1.6h-1.6zM401.34 413.25h1.6v1.6h-1.6zM401.89 412.99h1.6v1.6h-1.6zM402.43 412.74h1.6v1.6h-1.6zM402.98 412.49h1.6v1.6h-1.6zM403.53 412.23h1.6v1.6h-1.6zM404.08 411.98h1.6v1.6h-1.6zM404.63 411.73h1.6v1.6h-1.6zM405.17 411.47h1.6v1.6h-1.6zM405.72 411.22h1.6v1.6h-1.6zM406.27 410.97h1.6v1.6h-1.6zM406.82 410.72h1.6v1.6h-1.6zM407.36 410.47h1.6v1.6h-1.6zM407.91 410.22h1.6v1.6h-1.6zM408.46 409.96h1.6v1.6h-1.6zM409.01 409.71h1.6v1.6h-1.6zM409.55 409.46h1.6v1.6h-1.6zM410.1 409.21h1.6v1.6h-1.6zM410.65 408.96h1.6v1.6h-1.6zM411.2 408.71h1.6v1.6h-1.6zM411.74 408.46h1.6v1.6h-1.6zM412.29 408.21h1.6v1.6h-1.6zM412.84 407.96h1.6v1.6h-1.6zM413.39 407.72h1.6v1.6h-1.6zM413.93 407.47h1.6v1.6h-1.6zM414.48 407.22h1.6v1.6h-1.6zM415.03 406.97h1.6v1.6h-1.6zM415.58 406.72h1.6v1.6h-1.6zM416.12 406.47h1.6v1.6h-1.6zM416.67 406.23h1.6v1.6h-1.6zM417.22 405.98h1.6v1.6h-1.6zM417.77 405.73h1.6v1.6h-1.6zM418.32 405.49h1.6v1.6h-1.6zM418.86 405.24h1.6v1.6h-1.6zM419.41 404.99h1.6v1.6h-1.6zM419.96 404.75h1.6v1.6h-1.6zM420.51 404.5h1.6v1.6h-1.6zM421.05 404.26h1.6v1.6h-1.6zM421.6 404.01h1.6v1.6h-1.6zM422.15 403.77h1.6v1.6h-1.6zM422.7 403.52h1.6v1.6h-1.6zM423.24 403.28h1.6v1.6h-1.6zM423.79 403.03h1.6v1.6h-1.6zM424.34 402.79h1.6v1.6h-1.6zM424.89 402.55h1.6v1.6h-1.6zM425.43 402.3h1.6v1.6h-1.6zM425.98 402.06h1.6v1.6h-1.6zM426.53 401.82h1.6v1.6h-1.6zM427.08 401.57h1.6v1.6h-1.6zM427.62 401.33h1.6v1.6h-1.6zM428.17 401.09h1.6v1.6h-1.6zM428.72 400.85h1.6v1.6h-1.6zM429.27 400.6h1.6v1.6h-1.6zM429.81 400.36h1.6v1.6h-1.6zM430.36 400.12h1.6v1.6h-1.6zM430.91 399.88h1.6v1.6h-1.6zM431.46 399.64h1.6v1.6h-1.6zM432.01 399.4h1.6v1.6h-1.6zM432.55 399.16h1.6v1.6h-1.6zM433.1 398.92h1.6v1.6h-1.6zM433.65 398.68h1.6v1.6h-1.6zM434.2 398.44h1.6v1.6h-1.6zM434.74 398.2h1.6v1.6h-1.6zM435.29 397.96h1.6v1.6h-1.6zM435.84 397.72h1.6v1.6h-1.6zM436.39 397.48h1.6v1.6h-1.6zM436.93 397.25h1.6v1.6h-1.6zM437.48 397.01h1.6v1.6h-1.6zM438.03 396.77h1.6v1.6h-1.6zM438.58 396.53h1.6v1.6h-1.6zM439.12 396.29h1.6v1.6h-1.6zM439.67 396.06h1.6v1.6h-1.6zM440.22 395.82h1.6v1.6h-1.6zM440.77 395.58h1.6v1.6h-1.6zM441.31 395.35h1.6v1.6h-1.6zM441.86 395.11h1.6v1.6h-1.6zM442.41 394.87h1.6v1.6h-1.6zM442.96 394.64h1.6v1.6h-1.6zM443.5 394.4h1.6v1.6h-1.6zM444.05 394.17h1.6v1.6h-1.6zM444.6 393.93h1.6v1.6h-1.6zM445.15 393.7h1.6v1.6h-1.6zM445.7 393.46h1.6v1.6h-1.6zM446.24 393.23h1.6v1.6h-1.6zM446.79 393h1.6v1.6h-1.6zM447.34 392.76h1.6v1.6h-1.6zM447.89 392.53h1.6v1.6h-1.6zM448.43 392.3h1.6v1.6h-1.6zM448.98 392.06h1.6v1.6h-1.6zM449.53 391.83h1.6v1.6h-1.6zM450.08 391.6h1.6v1.6h-1.6zM450.62 391.37h1.6v1.6h-1.6zM451.17 391.13h1.6v1.6h-1.6zM451.72 390.9h1.6v1.6h-1.6zM452.27 390.67h1.6v1.6h-1.6zM452.81 390.44h1.6v1.6h-1.6zM453.36 390.21h1.6v1.6h-1.6zM453.91 389.98h1.6v1.6h-1.6zM454.46 389.75h1.6v1.6h-1.6zM455 389.52h1.6v1.6h-1.6zM455.55 389.29h1.6v1.6h-1.6zM456.1 389.06h1.6v1.6h-1.6zM456.65 388.83h1.6v1.6h-1.6zM457.19 388.6h1.6v1.6h-1.6zM457.74 388.37h1.6v1.6h-1.6zM458.29 388.14h1.6v1.6h-1.6zM458.84 387.91h1.6v1.6h-1.6zM459.39 387.68h1.6v1.6h-1.6zM459.93 387.46h1.6v1.6h-1.6zM460.48 387.23h1.6v1.6h-1.6zM461.03 387h1.6v1.6h-1.6zM461.58 386.77h1.6v1.6h-1.6zM462.12 386.55h1.6v1.6h-1.6zM462.67 386.32h1.6v1.6h-1.6zM463.22 386.09h1.6v1.6h-1.6zM463.77 385.87h1.6v1.6h-1.6zM464.31 385.64h1.6v1.6h-1.6zM464.86 385.41h1.6v1.6h-1.6zM465.41 385.19h1.6v1.6h-1.6zM465.96 384.96h1.6v1.6h-1.6zM466.5 384.74h1.6v1.6h-1.6zM467.05 384.51h1.6v1.6h-1.6zM467.6 384.29h1.6v1.6h-1.6zM468.15 384.06h1.6v1.6h-1.6zM468.69 383.84h1.6v1.6h-1.6zM469.24 383.62h1.6v1.6h-1.6zM469.79 383.39h1.6v1.6h-1.6zM470.34 383.17h1.6v1.6h-1.6zM470.88 382.95h1.6v1.6h-1.6zM471.43 382.72h1.6v1.6h-1.6zM471.98 382.5h1.6v1.6h-1.6z" fill="#000"/>
</svg>
</body></html>
